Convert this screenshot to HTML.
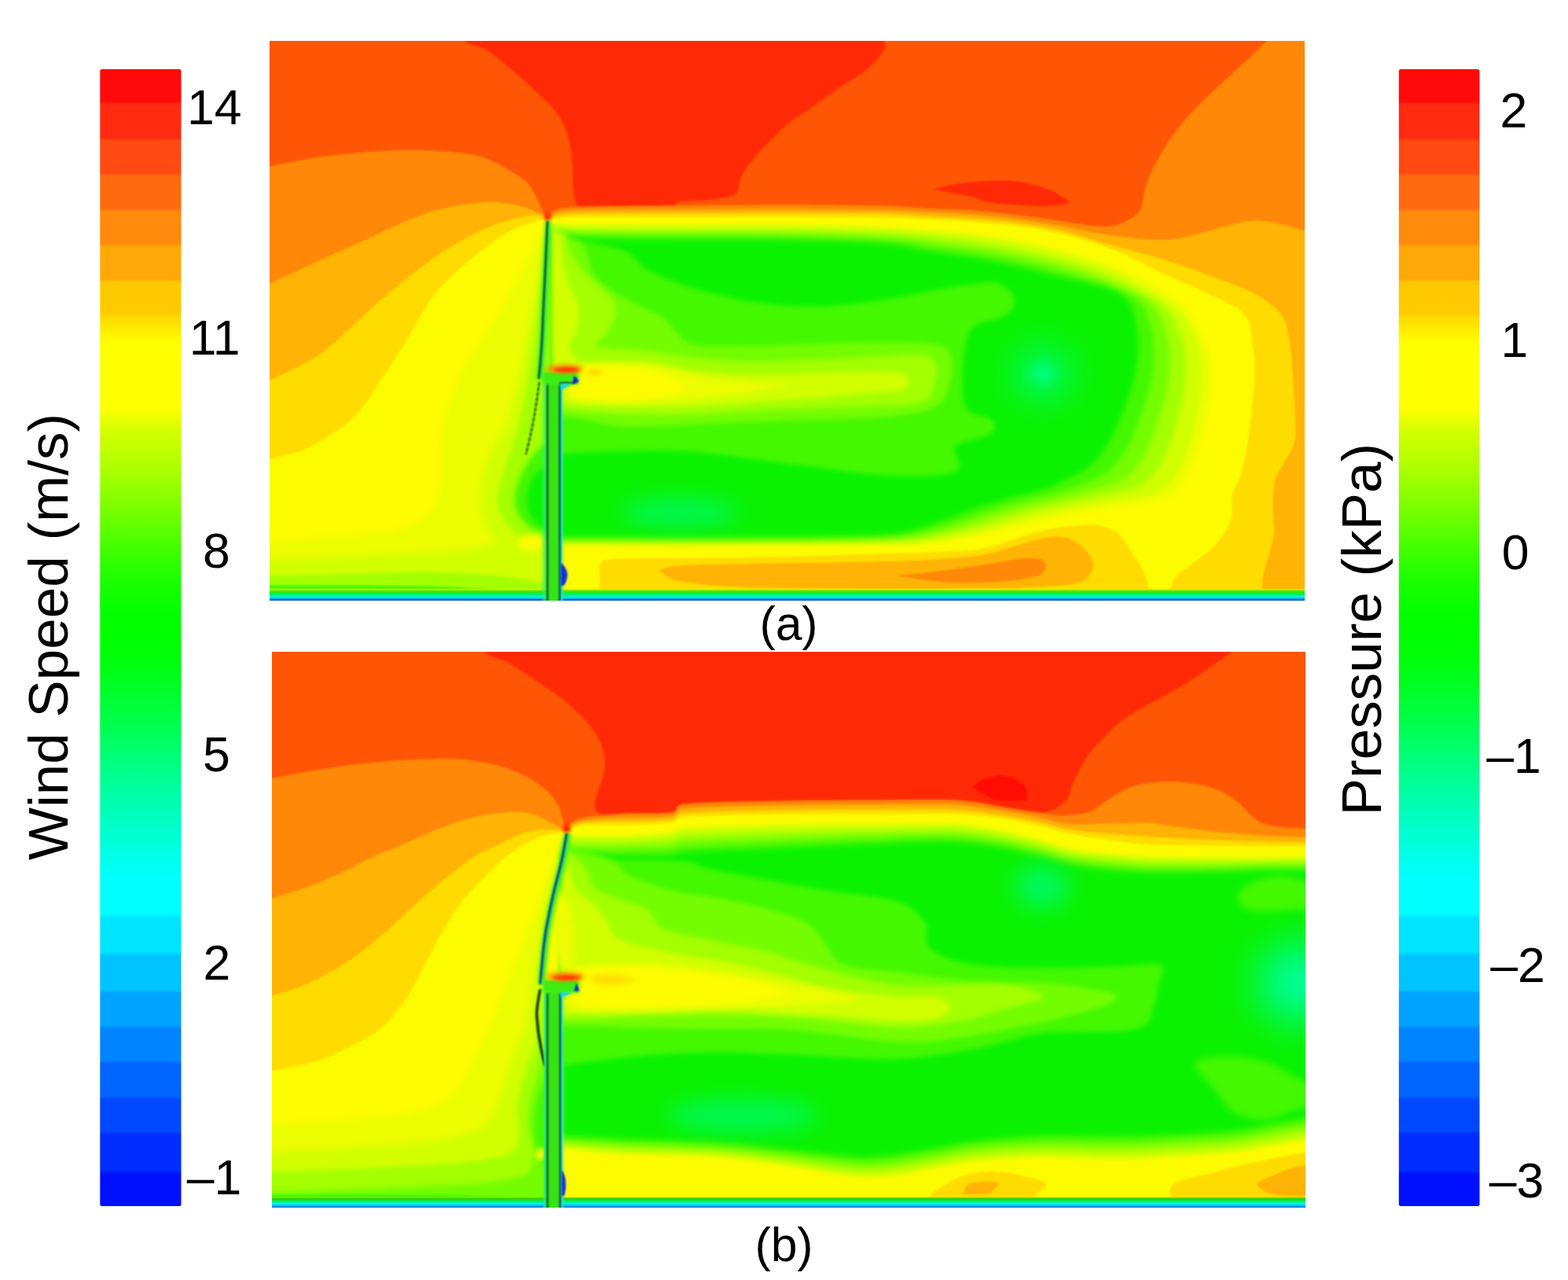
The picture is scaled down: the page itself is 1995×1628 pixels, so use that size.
<!DOCTYPE html>
<html lang="en"><head><meta charset="utf-8"><title>Wind speed and pressure contours</title>
<style>html,body{margin:0;padding:0;background:#fff;}body{width:1995px;height:1628px;overflow:hidden;}svg{display:block;}text{font-family:"Liberation Sans", Arial, Helvetica, sans-serif;fill:#000;}.tick{font-size:62.5px;}.axis{font-size:71px;}.cap{font-size:60.5px;}</style>
</head><body>
<svg xmlns="http://www.w3.org/2000/svg" width="1995" height="1628" viewBox="0 0 1995 1628">
<defs>
<filter id="blur-cb" color-interpolation-filters="sRGB" filterUnits="userSpaceOnUse" x="0" y="0" width="1995" height="1628"><feGaussianBlur stdDeviation="0 1.8"/></filter>
<linearGradient id="cbgrad" gradientUnits="userSpaceOnUse" x1="0" y1="60" x2="0" y2="1560"><stop offset="0.00000" stop-color="#ff0a0a"/><stop offset="0.04700" stop-color="#ff0a0a"/><stop offset="0.04700" stop-color="#ff2a10"/><stop offset="0.07800" stop-color="#ff2a10"/><stop offset="0.07800" stop-color="#ff4a12"/><stop offset="0.10800" stop-color="#ff4a12"/><stop offset="0.10800" stop-color="#ff6a10"/><stop offset="0.13767" stop-color="#ff6a10"/><stop offset="0.13767" stop-color="#ff8a0c"/><stop offset="0.16800" stop-color="#ff8a0c"/><stop offset="0.16800" stop-color="#ffa808"/><stop offset="0.19800" stop-color="#ffa808"/><stop offset="0.19800" stop-color="#ffc800"/><stop offset="0.22533" stop-color="#ffca00"/><stop offset="0.22867" stop-color="#ffd800"/><stop offset="0.25067" stop-color="#ffff00"/><stop offset="0.30667" stop-color="#ffff00"/><stop offset="0.32000" stop-color="#dcff00"/><stop offset="0.36000" stop-color="#a8ff00"/><stop offset="0.39667" stop-color="#70ff00"/><stop offset="0.42200" stop-color="#48ff00"/><stop offset="0.44800" stop-color="#20ff00"/><stop offset="0.47400" stop-color="#08ff00"/><stop offset="0.49933" stop-color="#00ff00"/><stop offset="0.52533" stop-color="#00ff10"/><stop offset="0.55133" stop-color="#00ff30"/><stop offset="0.57667" stop-color="#00ff50"/><stop offset="0.60267" stop-color="#00ff78"/><stop offset="0.62867" stop-color="#00ffa0"/><stop offset="0.65400" stop-color="#00ffc0"/><stop offset="0.68533" stop-color="#00ffe8"/><stop offset="0.70533" stop-color="#00ffff"/><stop offset="0.73467" stop-color="#00ffff"/><stop offset="0.73867" stop-color="#00e4ff"/><stop offset="0.76867" stop-color="#00e4ff"/><stop offset="0.76867" stop-color="#00c4ff"/><stop offset="0.80067" stop-color="#00c4ff"/><stop offset="0.80067" stop-color="#00a4ff"/><stop offset="0.83067" stop-color="#00a4ff"/><stop offset="0.83067" stop-color="#0084ff"/><stop offset="0.86067" stop-color="#0084ff"/><stop offset="0.86067" stop-color="#0064ff"/><stop offset="0.89067" stop-color="#0064ff"/><stop offset="0.89067" stop-color="#0048ff"/><stop offset="0.92067" stop-color="#0048ff"/><stop offset="0.92067" stop-color="#002cff"/><stop offset="0.95400" stop-color="#002cff"/><stop offset="0.95400" stop-color="#0010ff"/><stop offset="1.00000" stop-color="#0010ff"/></linearGradient>
<clipPath id="cbl-clip"><rect x="127.3" y="88" width="103.2" height="1446" rx="2.5"/></clipPath>
<clipPath id="cbr-clip"><rect x="1779.8" y="88" width="102.7" height="1446" rx="2.5"/></clipPath>
<clipPath id="pa-clip"><rect x="343" y="52" width="1317" height="712"/></clipPath><filter id="pa-b1" filterUnits="userSpaceOnUse" x="280" y="0" width="1450" height="830" color-interpolation-filters="sRGB"><feGaussianBlur stdDeviation="1.2"/></filter><filter id="pa-b2" filterUnits="userSpaceOnUse" x="280" y="0" width="1450" height="830" color-interpolation-filters="sRGB"><feGaussianBlur stdDeviation="2"/></filter><filter id="pa-b3" filterUnits="userSpaceOnUse" x="280" y="0" width="1450" height="830" color-interpolation-filters="sRGB"><feGaussianBlur stdDeviation="3.2"/></filter><filter id="pa-b5" filterUnits="userSpaceOnUse" x="280" y="0" width="1450" height="830" color-interpolation-filters="sRGB"><feGaussianBlur stdDeviation="5"/></filter><filter id="pa-b8" filterUnits="userSpaceOnUse" x="280" y="0" width="1450" height="830" color-interpolation-filters="sRGB"><feGaussianBlur stdDeviation="8"/></filter><filter id="pa-b14" filterUnits="userSpaceOnUse" x="280" y="0" width="1450" height="830" color-interpolation-filters="sRGB"><feGaussianBlur stdDeviation="14"/></filter><filter id="pa-b22" filterUnits="userSpaceOnUse" x="280" y="0" width="1450" height="830" color-interpolation-filters="sRGB"><feGaussianBlur stdDeviation="22"/></filter><linearGradient id="pa-ground" x1="0" y1="0" x2="0" y2="1"><stop offset="0" stop-color="#e0f000" stop-opacity="0"/><stop offset="0.12" stop-color="#d0f000"/><stop offset="0.2" stop-color="#60e800"/><stop offset="0.3" stop-color="#28e814"/><stop offset="0.45" stop-color="#00f050"/><stop offset="0.6" stop-color="#00f4b0"/><stop offset="0.7" stop-color="#00f0e0"/><stop offset="0.8" stop-color="#10b0ec"/><stop offset="0.88" stop-color="#1070dc"/><stop offset="1" stop-color="#1c54d0"/></linearGradient>
<clipPath id="pb-clip"><rect x="346" y="829" width="1315" height="707"/></clipPath><filter id="pb-b1" filterUnits="userSpaceOnUse" x="280" y="770" width="1450" height="830" color-interpolation-filters="sRGB"><feGaussianBlur stdDeviation="1.2"/></filter><filter id="pb-b2" filterUnits="userSpaceOnUse" x="280" y="770" width="1450" height="830" color-interpolation-filters="sRGB"><feGaussianBlur stdDeviation="2"/></filter><filter id="pb-b3" filterUnits="userSpaceOnUse" x="280" y="770" width="1450" height="830" color-interpolation-filters="sRGB"><feGaussianBlur stdDeviation="3.2"/></filter><filter id="pb-b5" filterUnits="userSpaceOnUse" x="280" y="770" width="1450" height="830" color-interpolation-filters="sRGB"><feGaussianBlur stdDeviation="5"/></filter><filter id="pb-b8" filterUnits="userSpaceOnUse" x="280" y="770" width="1450" height="830" color-interpolation-filters="sRGB"><feGaussianBlur stdDeviation="8"/></filter><filter id="pb-b14" filterUnits="userSpaceOnUse" x="280" y="770" width="1450" height="830" color-interpolation-filters="sRGB"><feGaussianBlur stdDeviation="14"/></filter><filter id="pb-b22" filterUnits="userSpaceOnUse" x="280" y="770" width="1450" height="830" color-interpolation-filters="sRGB"><feGaussianBlur stdDeviation="22"/></filter><linearGradient id="pb-ground" x1="0" y1="0" x2="0" y2="1"><stop offset="0" stop-color="#d0e800" stop-opacity="0"/><stop offset="0.1" stop-color="#70d800"/><stop offset="0.2" stop-color="#20d410"/><stop offset="0.35" stop-color="#10e840"/><stop offset="0.5" stop-color="#00f4a0"/><stop offset="0.62" stop-color="#00f8e8"/><stop offset="0.75" stop-color="#00c8f4"/><stop offset="0.87" stop-color="#0890e8"/><stop offset="1" stop-color="#1070e0"/></linearGradient>
</defs>
<rect width="1995" height="1628" fill="#fff"/>
<g clip-path="url(#cbl-clip)"><rect x="107.5" y="60" width="142.5" height="1500" fill="url(#cbgrad)" filter="url(#blur-cb)"/></g>
<g clip-path="url(#cbr-clip)"><rect x="1760" y="60" width="142" height="1500" fill="url(#cbgrad)" filter="url(#blur-cb)"/></g>
<g clip-path="url(#pa-clip)">
<rect x="283" y="-8" width="1437" height="832" fill="#fe5604"/>
<path d="M588.6 26.6C589.2 30.8 586.9 45.6 592 51.8C597 57.9 609.3 57.6 618.8 63.5C628.3 69.4 638.4 78.1 649 87C659.7 96 673.1 108.3 682.6 117.2C692.1 126.2 700 132.9 706.1 140.8C712.3 148.6 716.2 155.9 719.6 164.3C722.9 172.7 724.7 182.2 726.3 191.1C727.9 200.1 728.4 209.6 729 218C729.5 226.4 729 234.8 729.7 241.5C730.3 248.2 731.1 253.3 733 258.3C735 263.3 740 269.5 741.4 271.7L857.9 271.7C858.3 269.8 858.4 262.6 860 260C861.5 257.3 860.5 256.9 867.3 255.9C874.2 255 890.3 255.4 900.9 254.3C911.6 253.1 924.9 251 931.2 248.9C937.4 246.8 936.8 245 938.5 241.5C940.3 238 939.8 233.1 941.9 228.1C944 223 946.9 217.4 951.3 211.3C955.7 205.1 962.5 197.3 968.1 191.1C973.7 185 979.6 179.7 984.9 174.3C990.2 169 991.9 165.7 1000 159.2C1008.1 152.8 1022.4 143.6 1033.6 135.7C1044.8 127.9 1056 119.8 1067.2 112.2C1078.4 104.6 1092.4 96.8 1100.8 90.4C1109.1 83.9 1113.3 78.6 1117.5 73.6C1121.7 68.5 1124.7 63.8 1125.9 60.2C1127.2 56.5 1125.2 57.4 1124.9 51.8C1124.7 46.2 1124.4 30.8 1124.3 26.6Z" fill="#ff2a05" filter="url(#pa-b1)"/>
<path d="M1188.1 240.8C1193.1 239.7 1204.9 235.6 1218.3 233.8C1231.7 231.9 1254.7 230 1268.7 229.8C1282.7 229.5 1291.1 230.1 1302.3 232.1C1313.5 234.1 1325.8 237.3 1335.8 241.5C1345.9 245.8 1358.2 254.9 1362.7 257.6L1362.7 257.6C1358.2 258.4 1345.9 261.8 1335.8 262.3C1325.8 262.9 1315.1 261.8 1302.3 261C1289.4 260.2 1269.8 259.5 1258.6 257.6C1247.4 255.8 1246.8 252.7 1235.1 249.9C1223.3 247.1 1195.9 242.3 1188.1 240.8Z" fill="#ff2a05" filter="url(#pa-b1)"/>
<path d="M316.6 213.3C320.9 213 329.3 213.3 342.8 211.3C356.2 209.3 376.9 204.2 397.2 201.2C417.4 198.2 441.9 195.2 464.3 193.5C486.7 191.8 509.1 190.7 531.5 191.1C553.9 191.6 581.9 193.4 598.7 196.2C615.5 199 621.1 202.6 632.3 207.9C643.5 213.2 658 221.9 665.8 228.1C673.7 234.2 675.8 239.5 679.3 244.9C682.7 250.2 684.4 255.4 686.7 260C688.9 264.6 691.7 270.3 692.7 272.4L700 271C702.5 270 706.7 266.4 715 265C723.3 263.6 725.8 263.1 750 262.5C774.2 261.9 818.3 261.8 860 261.5C901.7 261.2 955 260.4 1000 260.5C1045 260.6 1100 261.2 1130 262C1160 262.8 1160 263.9 1180 265C1200 266.1 1225 266.2 1250 268.4C1275 270.6 1307.5 275 1330 278C1352.5 281 1370 285.1 1385 286.5C1400 287.9 1409.4 289.2 1420 286.4C1430.6 283.6 1442.8 276.4 1448.7 269.8C1454.6 263.2 1453.2 254.1 1455.4 246.6C1457.6 239.1 1459.2 231.9 1462 225C1464.8 218.1 1467.7 212.8 1472 205C1476.3 197.2 1481.7 187.2 1488 178C1494.3 168.8 1502.2 159 1510 150C1517.8 141 1526.3 132.5 1535 124C1543.7 115.5 1552.8 107.5 1562 99C1571.2 90.5 1581.8 80.8 1590 73C1598.2 65.2 1604 59.2 1611 52C1618 44.8 1628.5 33.7 1632 30L1720 -8L1720 824L283 824Z" fill="#ff8808" filter="url(#pa-b1)"/>
<path d="M316.6 367.4C320.9 366.3 329.3 366 342.8 360.7C356.2 355.4 376.9 344.8 397.2 335.5C417.4 326.3 441.9 315.4 464.3 305.3C486.7 295.2 514.7 281.8 531.5 275.1C548.3 268.4 553.9 267.7 565.1 265C576.3 262.3 587.5 260.3 598.7 259C609.9 257.7 621.1 256.6 632.3 257.3C643.5 258 656.9 261 665.8 263.3C674.8 265.6 681.2 269.3 686 271.1C690.7 272.8 693 273.6 694.4 274.1L700 274C702.5 273.2 706.7 270.2 715 269C723.3 267.8 725.8 267.4 750 267C774.2 266.6 818.3 266.7 860 266.5C901.7 266.3 955 265.8 1000 266C1045 266.2 1100 266.8 1130 267.5C1160 268.2 1160 268.9 1180 270C1200 271.1 1225 271.7 1250 274C1275 276.3 1303 279.8 1330 284C1357 288.2 1387 295.5 1412 299C1437 302.5 1460.7 305.4 1480 305C1499.3 304.6 1511.7 300.1 1528 296.4C1544.3 292.7 1564.2 285.5 1578 283C1591.8 280.5 1597.3 279.7 1611 281.4C1624.7 283.1 1645.2 289.4 1660 293C1674.8 296.6 1693.3 301.3 1700 303L1720 824L283 824Z" fill="#ffb305" filter="url(#pa-b1)"/>
<path d="M300 498C307.2 495.6 330.3 488.4 343 483.4C355.7 478.4 364.8 473.8 376 468C387.2 462.2 398.5 456.7 410 448.4C421.5 440.1 433.3 428.5 445 418C456.7 407.5 468.3 395.7 480 385.4C491.7 375.1 503.3 365.3 515 356C526.7 346.7 538.3 337.6 550 329.4C561.7 321.2 573.3 313.6 585 307C596.7 300.4 609.2 294.3 620 289.7C630.8 285.1 640.3 282.1 650 279.5C659.7 276.9 670.9 274.6 678.4 273.8C685.9 273 692.2 274.4 695 274.5L700 277C702.5 276.3 706.7 273.9 715 273C723.3 272.1 725.8 271.8 750 271.5C774.2 271.2 818.3 271.1 860 271C901.7 270.9 955 270.8 1000 271C1045 271.2 1100 271.3 1130 272C1160 272.7 1160 273.8 1180 275C1200 276.2 1225 276.7 1250 279C1275 281.3 1303 283.7 1330 289C1357 294.3 1387 304.2 1412 311C1437 317.8 1457.8 323.1 1480 330C1502.2 336.9 1525.9 345.6 1545 352.7C1564.1 359.8 1580.5 364.8 1594.7 372.7C1608.9 380.6 1622.3 389.5 1630 400C1637.7 410.5 1638.5 422.6 1641 435.7C1643.5 448.8 1643.9 463.3 1645 478.8C1646.1 494.3 1647.5 514.8 1647.8 528.6C1648.1 542.4 1649.3 551.8 1647 561.7C1644.7 571.7 1638.2 580 1634 588.3C1629.8 596.6 1624.4 602.1 1622 611.5C1619.6 620.9 1619.8 633.6 1619.6 644.7C1619.4 655.8 1621.8 668 1621 678C1620.2 688 1616.8 696.1 1614.6 704.4C1612.4 712.7 1609.4 720 1608 727.6C1606.6 735.2 1606.3 737.9 1606 750C1605.7 762.1 1606 791.7 1606 800L283 824Z" fill="#ffdc00" filter="url(#pa-b1)"/>
<path d="M300 595C307.2 593.2 329 587.7 343 584C357 580.3 371.7 577.8 384 573C396.3 568.2 407.7 560.5 417 555C426.3 549.5 432.5 546.3 440 540C447.5 533.7 455.3 525.3 462 517C468.7 508.7 474.2 498.7 480 490C485.8 481.3 491.2 473.9 497 465C502.8 456.1 509.2 446.4 515 436.7C520.8 427 526.2 416.7 532 407C537.8 397.3 543.3 387.2 550 378.4C556.7 369.6 564.2 361.8 572 354C579.8 346.2 588.7 338.5 596.7 331.7C604.7 324.9 612.2 318.8 620 313C627.8 307.2 635.4 301.2 643.4 296.7C651.4 292.2 659.9 288.9 668 286C676.1 283.1 688 280.2 692 279L700 280C702.5 279.5 706.7 277.7 715 277C723.3 276.3 725.8 276.2 750 276C774.2 275.8 818.3 276 860 276C901.7 276 955 275.8 1000 276C1045 276.2 1100 276.5 1130 277C1160 277.5 1160 278 1180 279C1200 280 1225 280.7 1250 283C1275 285.3 1303 287.5 1330 293C1357 298.5 1387 306.8 1412 316C1437 325.2 1458.7 338.2 1480 348C1501.3 357.8 1522.8 366.3 1540 375C1557.2 383.7 1574.5 389.2 1583.5 400C1592.5 410.8 1591.9 426.7 1594 440C1596.1 453.3 1596.2 466.7 1596 480C1595.8 493.3 1594.3 506.7 1593 520C1591.7 533.3 1590.2 546.7 1588 560C1585.8 573.3 1583.3 588.3 1580 600C1576.7 611.7 1570.2 619.8 1568 630C1565.8 640.2 1570.3 650.2 1566.5 661C1562.7 671.8 1554.1 684.5 1545 694.5C1535.9 704.5 1519.5 714.9 1511.8 721C1504 727.1 1502.1 726.2 1498.5 731C1494.9 735.8 1491.4 738.5 1490 750C1488.6 761.5 1490 791.7 1490 800L283 824Z" fill="#fcfb00" filter="url(#pa-b1)"/>
<path d="M763 752C763.2 746.3 762 724.7 764 718C766 711.3 765.7 713.3 775 712C784.3 710.7 797.5 710.4 820 710C842.5 709.6 880 709.8 910 709.5C940 709.2 963.3 708.9 1000 708C1036.7 707.1 1097.3 705 1130 704C1162.7 703 1176 703 1196 702C1216 701 1234.3 700.7 1250 698C1265.7 695.3 1276.7 690 1290 686C1303.3 682 1316.3 676.9 1330 674C1343.7 671.1 1360.3 669.3 1372 668.5C1383.7 667.7 1391.7 667.4 1400 669C1408.3 670.6 1415.5 672.7 1422 678C1428.5 683.3 1433.2 692.7 1438.8 701C1444.4 709.3 1451.5 719.1 1455.4 727.6C1459.3 736.1 1460.9 747.9 1462 752Z" fill="#ffdc00" filter="url(#pa-b1)"/>
<path d="M838 725C842.7 724.1 846.5 720.8 866 719.5C885.5 718.2 911 717.9 955 717C999 716.1 1089.8 715 1130 714C1170.2 713 1176 712.3 1196 711C1216 709.7 1234.3 708.7 1250 706C1265.7 703.3 1276.7 698.7 1290 695C1303.3 691.3 1319 685.9 1330 684C1341 682.1 1348.4 681.8 1356 683.5C1363.6 685.2 1370.2 689.9 1375.7 694.5C1381.2 699.1 1386.8 705.5 1389 711C1391.2 716.5 1391.8 722.6 1389 727.6C1386.2 732.6 1382.4 737.9 1372.4 741C1362.5 744.1 1347.7 744.8 1329.3 746C1310.9 747.2 1295.2 748 1262 748.5C1228.8 749 1152 748.9 1130 749L1130 749C1100.8 748.7 999 748.6 955 747C911 745.4 885.5 743.2 866 739.5C846.5 735.8 842.7 727.4 838 725Z" fill="#ffb305" filter="url(#pa-b1)"/>
<path d="M1138.8 731.7C1145.7 731.2 1161.5 730.7 1180 728.5C1198.5 726.3 1230.7 721.5 1250 718.6C1269.3 715.7 1283.9 712.3 1296 711C1308.1 709.7 1316.9 709.6 1322.7 711C1328.5 712.4 1329.6 717.9 1331 719.3L1331 719.3C1329.6 721.2 1331.3 727.7 1322.7 731C1314.1 734.3 1297.8 737.5 1279.5 739.2C1261.2 740.9 1230.6 741.4 1213 741C1195.4 740.6 1186.4 738.5 1174 737C1161.6 735.5 1144.7 732.6 1138.8 731.7Z" fill="#ff8808" filter="url(#pa-b1)"/>
<path d="M300 692C307.2 691.7 318 691.8 343 690C368 688.2 421.1 684 450 681C478.9 678 499.8 677.2 516.4 672C533 666.8 541.8 661 549.5 650C557.2 639 560.2 624.3 562.8 606C565.4 587.7 560.5 562.7 565 540C569.5 517.3 577.5 495 590 470C602.5 445 625 415.8 640 390C655 364.2 671.3 331.7 680 315C688.7 298.3 690 294.2 692 290L702 290L702 800L283 824Z" fill="#ebfd00" filter="url(#pa-b3)"/>
<path d="M300 714C307.2 713.7 318 713.1 343 712C368 710.9 417.4 709.1 450 707.6C482.6 706.1 514.6 704.4 538.5 703C562.4 701.6 578.9 701.2 593.6 699C608.3 696.8 623 695.9 626.7 690C630.4 684.1 618.3 673.8 615.7 663.5C613.1 653.2 610.6 639.4 611 628C611.4 616.6 614.7 606 618 595C621.3 584 626.7 571.2 631 562C635.3 552.8 639.2 553.7 644 540C648.8 526.3 654.7 503.3 660 480C665.3 456.7 671.3 425 676 400C680.7 375 685.2 347.3 688 330C690.8 312.7 692.2 301.7 693 296L702 296L702 800L283 824Z" fill="#d2ff00" filter="url(#pa-b3)"/>
<path d="M300 733C307.2 732.8 318 732.5 343 732C368 731.5 417.4 730.5 450 729.7C482.6 729 512.7 727.5 538.5 727.5C564.3 727.5 586.3 728.6 604.7 729.7C623.1 730.8 636.2 732.3 648.8 734C661.3 735.7 671.1 738.7 680 740C688.9 741.3 698.3 741.7 702 742L702 800L283 824Z" fill="#a4ff00" filter="url(#pa-b2)"/>
<path d="M300 744.5C325 744.5 406.7 744.2 450 744.5C493.3 744.8 531.7 745.2 560 746C588.3 746.8 603.3 748.5 620 749.5C636.7 750.5 646.3 751.4 660 752C673.7 752.6 695 752.8 702 753L702 800L283 824Z" fill="#44f800" filter="url(#pa-b1)"/>
<path d="M694 300C692.2 316.7 686.7 370 683 400C679.3 430 675.8 456.7 672 480C668.2 503.3 663.2 526.3 660 540C656.8 553.7 656 552.8 653 562C650 571.2 645.3 584 642 595C638.7 606 634.4 618.8 633.3 628C632.2 637.2 632.9 642.7 635.5 650C638.1 657.3 643.6 666.8 648.8 672C653.9 677.2 657.5 679 666.4 681C675.3 683 696.1 683.5 702 684L702 300Z" fill="#a4ff00" filter="url(#pa-b3)"/>
<path d="M690.7 566.5C688.5 568.7 682 573.8 677.5 579.7C673 585.6 667.7 593.8 664 601.8C660.3 609.8 656.5 620 655.4 628C654.3 636 655 643.3 657.6 650C660.2 656.7 665.6 663.5 670.8 668C675.9 672.5 683.3 675 688.5 676.7C693.7 678.4 699.8 677.8 702 678L702 566Z" fill="#44f800" filter="url(#pa-b3)"/>
<path d="M693 595C690.8 596.8 683.3 599.7 679.6 606C675.9 612.3 671.6 624.5 670.8 632.6C670 640.7 671.3 648.1 675 654.7C678.7 661.3 688.5 669.1 693 672C697.5 674.9 700.5 672 702 672L702 595Z" fill="#0af200" filter="url(#pa-b3)"/>
<ellipse cx="676" cy="691" rx="17" ry="10" fill="#fcfb00" filter="url(#pa-b3)"/>
<path d="M699 284L700.5 284.2L702.4 284.4L704.8 284.7L707.7 285L711 285.3L715 285.5L718.9 285.6L722.5 285.7L726.6 285.8L732.1 285.9L739.6 285.9L750 286L763.6 286.1L780 286.2L798.4 286.3L818.3 286.4L839.1 286.4L860 286.5L881.7 286.5L904.8 286.4L928.8 286.4L953 286.3L976.9 286.4L1000 286.5L1023.2 286.8L1047 287.1L1070.6 287.6L1093 288L1113.1 288.5L1130 289L1142.7 289.4L1151.9 289.9L1158.8 290.3L1164.8 290.8L1171.4 291.3L1180 292L1190.4 292.7L1201.5 293.4L1213.1 294.2L1225.2 295.2L1237.5 296.4L1250 298L1262.7 299.9L1275.9 302L1289.2 304.4L1302.8 307L1316.4 309.9L1330 313L1343.7 316.4L1357.7 320L1371.8 323.8L1385.6 327.9L1399.1 332.3L1412 337L1424.5 342.1L1437 347.8L1449.1 353.7L1460.4 359.7L1470.9 365.5L1480 371L1487.7 376L1494 380.6L1499.4 385.1L1504.1 389.7L1508.5 394.6L1513 400L1517.5 406L1521.7 412.5L1525.7 419.3L1529.3 426.3L1532.4 433.2L1535 440L1537.1 446.7L1538.6 453.3L1539.7 460L1540.4 466.7L1540.8 473.3L1541 480L1540.8 486.7L1540.3 493.3L1539.4 500L1538.4 506.7L1537.2 513.3L1536 520L1534.8 526.7L1533.5 533.3L1532.1 540L1530.6 546.7L1528.9 553.3L1527 560L1524.9 566.8L1522.6 573.8L1520.2 580.8L1517.6 587.6L1514.9 594L1512 600L1509.2 605.5L1506.5 610.8L1503.7 615.8L1500.5 620.3L1496.7 624.4L1492 628L1486.2 631L1479.5 633.4L1472.1 635.4L1464.5 637.1L1457 638.6L1450 640L1443.9 641.1L1438.7 641.8L1433.5 642.2L1427.8 642.8L1420.8 643.6L1412 645L1400.9 647L1387.9 649.4L1373.6 652.1L1358.8 655L1344.1 658L1330 661L1316.4 664.1L1302.8 667.4L1289.2 670.8L1275.9 674.1L1262.7 677.3L1250 680L1237.5 682.4L1225.2 684.6L1213.1 686.6L1201.5 688.3L1190.4 689.8L1180 691L1171.4 691.9L1164.8 692.4L1158.8 692.6L1151.9 692.7L1142.7 692.8L1130 693L1113.1 693.2L1093 693.4L1070.6 693.6L1047 693.8L1023.2 693.9L1000 694L976.8 694.1L952.6 694.1L928.1 694.1L904.1 694L881.1 694L860 694L840.3 694L821.4 694L803.6 694L787.3 694L772.6 694L760 694L749.8 694L742 694L735.9 694L730.9 694L726.5 694L722 694L717.6 694L713.9 694L710.6 694L707.9 694L705.7 694L704 694Z" fill="#ebfd00" filter="url(#pa-b2)"/>
<path d="M699 285L719.8 286.7L740.6 286.9L761.4 287.1L782.2 287.2L803.1 287.3L823.9 287.4L844.7 287.5L865.6 287.5L886.4 287.5L907.2 287.4L928.1 287.3L948.9 287.3L969.7 287.3L990.6 287.4L1011.4 287.7L1032.2 288.1L1053.1 288.5L1073.9 289.1L1094.7 289.7L1115.5 290.4L1136.3 291.3L1157.1 292.7L1177.9 294.8L1198.6 296.3L1219.4 297.7L1240.2 299.7L1260.8 302.7L1281.3 306.3L1301.7 310.4L1322 315L1342.2 320.1L1362.4 325.5L1382.3 331.3L1402.1 338.1L1421.2 346.2L1439.7 355.7L1457.7 366.2L1475.5 377.2L1493.3 388L1507.8 402.6L1517.8 420.9L1525.1 440.4L1529.1 460.8L1530 481.6L1528.1 502.4L1524.4 522.9L1519.8 543.2L1514 563.2L1507.9 583.1L1498.8 601.8L1485.1 617.4L1468.2 629.4L1447.8 633.1L1427.1 635.6L1406.6 639L1386.1 642.7L1365.6 646.5L1345.2 650.7L1324.8 655.3L1304.7 660.7L1284.7 666.5L1264.7 672.2L1244.5 677.3L1224.1 681.6L1203.6 685.4L1183 688.6L1162.3 690.6L1141.5 690.9L1120.7 691.1L1099.8 691.4L1079 691.6L1058.2 691.7L1037.3 691.8L1016.5 691.9L995.7 692L974.8 692.1L954 692.1L933.2 692.1L912.3 692L891.5 692L870.7 692L849.8 692L829 692L808.2 692L787.3 692L766.5 692L745.7 692L724.8 692L704 692Z" fill="#d2ff00" filter="url(#pa-b2)"/>
<path d="M699.8 288.8L720 290.6L740.3 291.1L760.6 291.3L780.9 291.5L801.2 291.6L821.5 291.7L841.8 291.8L862.2 291.9L882.5 291.9L902.8 291.8L923.1 291.8L943.4 291.8L963.7 291.8L984.1 291.9L1004.4 292.2L1024.7 292.6L1045 293L1065.3 293.6L1085.6 294.2L1105.9 294.9L1126.2 295.7L1146.5 297L1166.7 298.9L1186.9 300.7L1207.1 302.8L1227.3 305.1L1247.4 307.9L1267.4 311.2L1287.4 315.1L1307.2 319.4L1326.9 324.2L1346.6 329.3L1366.2 334.8L1385.5 340.9L1404.5 348L1422.9 356.2L1441 365.2L1458.8 374.6L1476.4 384.7L1490.6 399L1499.4 417.2L1505.6 436.4L1508.8 456.4L1509.1 476.7L1506.8 496.9L1502.8 516.8L1497.7 536.4L1491.7 555.8L1485.1 575L1476 593.1L1463.1 608.6L1447 620.9L1427.7 626L1407.9 629.9L1388.2 634.4L1368.3 638.4L1348.4 642.4L1328.6 646.8L1308.8 651.5L1289.3 657L1269.9 663L1250.4 668.9L1230.8 674.2L1211.1 678.8L1191.3 683.1L1171.2 686.1L1150.9 687.9L1130.6 688.3L1110.3 688.6L1090 688.9L1069.7 689.1L1049.4 689.2L1029.1 689.4L1008.7 689.5L988.4 689.6L968.1 689.6L947.8 689.6L927.5 689.6L907.2 689.6L886.8 689.5L866.5 689.5L846.2 689.5L825.9 689.5L805.6 689.5L785.3 689.5L764.9 689.5L744.6 689.5L724.3 689.5L704 689.5Z" fill="#a4ff00" filter="url(#pa-b3)"/>
<path d="M700.5 292.5L720.2 294.6L739.9 295.3L759.7 295.6L779.5 295.8L799.3 295.9L819.1 296L838.9 296.1L858.7 296.2L878.5 296.3L898.3 296.3L918.1 296.3L937.9 296.3L957.7 296.3L977.5 296.4L997.3 296.7L1017.1 297.1L1036.9 297.5L1056.7 298.1L1076.5 298.7L1096.3 299.3L1116.1 300.2L1135.8 301.3L1155.5 303.1L1175.2 305L1194.8 307.9L1214.4 310.5L1234 313.2L1253.5 316.2L1273 319.7L1292.4 323.8L1311.7 328.3L1330.9 333.1L1350 338.2L1369 343.7L1387.7 349.8L1406.1 356.7L1424.3 364.1L1442.2 372.1L1459.6 381.3L1473.3 395.4L1481 413.4L1486.1 432.5L1488.5 452L1488.2 471.8L1485.5 491.4L1481.1 510.6L1475.7 529.6L1469.3 548.4L1462.4 566.9L1453.3 584.4L1441 599.9L1425.8 612.4L1407.5 618.9L1388.7 624.2L1369.9 629.7L1350.6 634.2L1331.3 638.3L1312 642.8L1292.9 647.8L1273.9 653.4L1255 659.4L1236.2 665.5L1217.2 671.1L1198.1 676.1L1178.9 680.7L1159.3 683.5L1139.6 685.2L1119.8 685.7L1100 686.1L1080.2 686.4L1060.4 686.6L1040.6 686.7L1020.8 686.9L1001 687L981.2 687.1L961.4 687.1L941.6 687.1L921.8 687.1L902 687.1L882.2 687L862.4 687L842.6 687L822.8 687L803 687L783.2 687L763.4 687L743.6 687L723.8 687L704 687Z" fill="#74fd00" filter="url(#pa-b3)"/>
<path d="M701.2 296.2L720.4 298.6L739.6 299.5L758.9 299.9L778.2 300.1L797.5 300.2L816.7 300.4L836 300.5L855.3 300.6L874.6 300.7L893.9 300.7L913.2 300.7L932.4 300.8L951.7 300.8L971 301L990.3 301.2L1009.6 301.6L1028.8 302L1048.1 302.5L1067.4 303.1L1086.7 303.8L1105.9 304.6L1125.2 305.7L1144.4 307.2L1163.5 309.3L1182.4 313L1201.5 315.9L1220.6 318.4L1239.7 321.2L1258.7 324.4L1277.6 328.2L1296.4 332.4L1315.1 336.9L1333.8 341.6L1352.4 346.5L1371 351.7L1389.3 357.1L1407.5 363L1425.5 369.5L1442.8 378L1456.1 391.8L1462.6 409.7L1466.5 428.5L1468.2 447.6L1467.3 466.8L1464.2 485.9L1459.5 504.5L1453.6 522.9L1446.9 540.9L1439.7 558.8L1430.5 575.7L1419 591.1L1404.7 603.8L1387.4 611.8L1369.6 618.5L1351.6 625.1L1332.9 629.9L1314.1 634.2L1295.5 638.9L1276.9 644L1258.4 649.7L1240.2 655.9L1221.9 662.1L1203.6 668L1185.1 673.3L1166.5 678.3L1147.4 681L1128.2 682.5L1108.9 683.1L1089.6 683.5L1070.4 683.8L1051.1 684.1L1031.8 684.3L1012.5 684.4L993.2 684.6L974 684.7L954.7 684.7L935.4 684.7L916.1 684.6L896.8 684.6L877.5 684.5L858.3 684.5L839 684.5L819.7 684.5L800.4 684.5L781.1 684.5L761.8 684.5L742.6 684.5L723.3 684.5L704 684.5Z" fill="#44f800" filter="url(#pa-b3)"/>
<path d="M702 300L720.6 302.5L739.3 303.7L758.1 304.1L776.8 304.4L795.6 304.5L814.4 304.7L833.1 304.8L851.9 304.9L870.7 305.1L889.4 305.1L908.2 305.2L926.9 305.2L945.7 305.3L964.5 305.5L983.2 305.7L1002 306L1020.8 306.5L1039.5 307L1058.3 307.6L1077 308.2L1095.8 309L1114.5 310L1133.2 311.3L1151.8 313.7L1170.1 318.1L1188.6 321.3L1207.2 323.7L1225.8 326.1L1244.3 329L1262.8 332.5L1281.1 336.5L1299.4 340.7L1317.6 345.1L1335.9 349.4L1354.2 353.5L1372.5 357.6L1390.8 362L1408.8 367L1425.9 374.6L1438.9 388.1L1444.2 406L1447 424.5L1447.9 443.2L1446.3 461.9L1442.9 480.4L1437.8 498.4L1431.5 516.1L1424.6 533.5L1416.9 550.6L1407.8 567L1396.9 582.3L1383.5 595.3L1367.3 604.7L1350.4 612.8L1333.3 620.5L1315.2 625.6L1297 630.1L1278.9 635L1260.9 640.2L1243 646.1L1225.3 652.4L1207.7 658.7L1190 664.9L1172.1 670.5L1154.1 676L1135.5 678.5L1116.8 679.8L1098.1 680.5L1079.3 681L1060.5 681.3L1041.8 681.6L1023 681.8L1004.2 682L985.5 682.1L966.7 682.2L948 682.2L929.2 682.2L910.4 682.1L891.7 682.1L872.9 682L854.1 682L835.4 682L816.6 682L797.8 682L779.1 682L760.3 682L741.5 682L722.8 682L704 682Z" fill="#0af200" filter="url(#pa-b3)"/>
<path d="M704 300C710.2 301 725.7 302.8 741 306C756.3 309.2 781.5 313 795.6 319.3C809.7 325.6 811.4 336 825.4 343.7C839.4 351.4 857 358.6 879.5 365.4C902 372.2 933.6 380.2 960.7 384.3C987.8 388.4 1015 390.1 1042 389.7C1069 389.2 1097.3 385.2 1123 381.6C1148.7 378 1172.8 371.8 1196 368C1219.2 364.2 1247.3 358.6 1262 359C1276.7 359.4 1279.6 366.2 1284.4 370.3C1289.2 374.4 1291.7 378.4 1291 383.5C1290.3 388.6 1288.5 395.9 1280 401C1271.5 406.1 1248.5 408.5 1240 414.4C1231.5 420.3 1231.5 425.4 1229 436.4C1226.5 447.4 1224.6 466.7 1224.8 480.6C1225 494.5 1223.8 511.1 1230 520C1236.2 528.9 1257 528.7 1262 534C1267 539.3 1267.7 546.3 1260 552C1252.3 557.7 1223.3 560 1216 568C1208.7 576 1230.3 593.8 1216 600C1201.7 606.2 1166.2 606.8 1130 605C1093.8 603.2 1042.7 594.6 998.8 589.4C954.9 584.2 910.5 576.2 866.4 574C822.3 571.8 761.1 575 734 576C706.9 577 709 579.3 704 580Z" fill="#44f800" filter="url(#pa-b3)"/>
<path d="M704 296C710.2 298.5 732.4 301.7 741.4 311C750.4 320.3 748.2 340 757.7 351.8C767.2 363.6 784.3 373.1 798.3 381.6C812.3 390.1 830.8 395.8 841.6 403C852.4 410.2 855.8 419.1 863 425C870.2 430.9 868.7 435.9 885 438.4C901.3 440.9 925.5 440.2 960.7 439.8C995.9 439.4 1057.7 435.9 1096 435.7C1134.3 435.5 1171.8 435.2 1190.8 438.4C1209.8 441.6 1206.9 446.6 1209.8 454.7C1212.7 462.8 1211.6 476.6 1208.4 487C1205.2 497.4 1203.9 509.8 1190.8 517C1177.7 524.2 1161.8 527 1130 530C1098.2 533 1036.6 533.5 1000 535C963.4 536.5 943.9 537.4 910.6 538.7C877.3 540 829.4 544.1 800 543C770.6 541.9 750 534.2 734 532C718 529.8 709 530.3 704 530Z" fill="#74fd00" filter="url(#pa-b3)"/>
<path d="M704 292C706.6 292.9 716.3 293.1 719.8 297.7C723.3 302.2 721 311.2 725 319.3C729 327.4 735 336 744 346.4C753 356.8 773 372.2 779.3 381.6C785.6 391 783.4 395.8 782 403C780.6 410.2 774.7 418.7 771 425C767.3 431.3 750.9 437.4 760 441C769.1 444.6 805.5 444.3 825.4 446.6C845.3 448.9 857 452.5 879.5 454.7C902 456.9 924.6 460 960.7 460C996.8 460 1060.8 456 1096 454.7C1131.2 453.4 1156.2 450.2 1172 452C1187.8 453.8 1188.1 459.2 1190.8 465.5C1193.5 471.8 1191.1 482.3 1188 490C1184.9 497.7 1187.3 507 1172 511.5C1156.7 516 1131.2 515.2 1096 517C1060.8 518.8 1001.3 520.6 960.7 522.4C920.1 524.2 885.9 527.4 852.4 527.8C818.9 528.2 784.7 526.3 760 525C735.3 523.7 713.3 520.8 704 520Z" fill="#a4ff00" filter="url(#pa-b3)"/>
<path d="M702 290C703.7 291.7 709.7 293.3 712 300C714.3 306.7 714.3 320.5 716 330C717.7 339.5 718.7 347 722 357C725.3 367 734 379.5 736 390C738 400.5 735.8 411.5 734 420C732.2 428.5 723.3 434.3 725 441C726.7 447.7 727.3 456.8 744 460C760.7 463.2 802.8 458.2 825.4 460C848 461.8 857 468.3 879.5 471C902 473.7 924.6 475.9 960.7 476.3C996.8 476.7 1065.3 473.8 1096 473.6C1126.7 473.4 1134.9 473.2 1144.8 475C1154.7 476.8 1155.1 481.1 1155.6 484.5C1156 487.9 1157.4 492.6 1147.5 495.3C1137.6 498 1127.1 498 1096 500.7C1064.9 503.4 999 508.8 960.7 511.5C922.4 514.2 899.5 516.2 866 517C832.5 517.8 787 516.8 760 516C733 515.2 713.3 512.7 704 512Z" fill="#d2ff00" filter="url(#pa-b3)"/>
<path d="M740 464C752.7 461.2 781.7 462 800 463C818.3 464 833.3 467.2 850 470C866.7 472.8 881.7 477.2 900 480C918.3 482.8 943.3 485.5 960 487C976.7 488.5 1000 487.2 1000 489C1000 490.8 976.7 495.3 960 498C943.3 500.7 918.3 503 900 505C881.7 507 873.3 508.8 850 510C826.7 511.2 781 512.8 760 512C739 511.2 730 510.3 724 505C718 499.7 721.3 486.8 724 480C726.7 473.2 727.3 466.8 740 464Z" fill="#ebfd00" filter="url(#pa-b3)"/>
<path d="M744 468C755.7 466 782.5 467.1 798.3 468C814.1 468.9 827.7 470.4 839 473.6C850.3 476.8 860.6 483.4 866 487C871.4 490.6 873.7 492.6 871.4 495.3C869.1 498 864.6 501.1 852.4 503.4C840.2 505.6 816.4 508.4 798.3 508.8C780.2 509.2 756.2 507.4 744 506C731.8 504.6 727.7 505 725 500.7C722.3 496.4 724.8 485.4 728 480C731.2 474.6 732.3 470 744 468Z" fill="#fcfb00" filter="url(#pa-b3)"/>
<path d="M749 471C750.7 469.9 755.8 469.1 759 469.5C762.2 469.9 768 472.2 768 473.5C768 474.8 762.2 477.1 759 477.5C755.8 477.9 750.7 477.1 749 476C747.3 474.9 747.3 472.1 749 471Z" fill="#ffdc00" filter="url(#pa-b2)"/>
<ellipse cx="1327" cy="475" rx="40" ry="36" fill="#00f858" filter="url(#pa-b22)"/>
<ellipse cx="1327" cy="475" rx="15" ry="13" fill="#00fd84" filter="url(#pa-b8)"/>
<ellipse cx="865" cy="652" rx="75" ry="17" fill="#00f858" filter="url(#pa-b14)"/>
<rect x="283" y="748" width="1437" height="16.5" fill="url(#pa-ground)"/>
<path d="M696.5 281 C695 320 692.5 370 691 400 C690 430 688 460 685.5 482" fill="none" stroke="#30ec30" stroke-width="8" filter="url(#pa-b2)" transform="translate(1 0)"/>
<path d="M696.5 281 C695 320 692.5 370 691 400 C690 430 688 460 685.5 482" fill="none" stroke="#0a3a48" stroke-width="2.4" filter="url(#pa-b1)"/>
<path d="M686 486 C682 520 676 552 669 578" fill="none" stroke="#1a3a10" stroke-width="2.2" stroke-dasharray="5 1.5" filter="url(#pa-b1)"/>
<circle cx="696.5" cy="275.5" r="4.6" fill="#ff1400" filter="url(#pa-b2)"/>
<rect x="691" y="486" width="6" height="290" fill="#30f070" filter="url(#pa-b2)" opacity="0.9"/>
<rect x="712" y="486" width="4" height="290" fill="#20f0e0" filter="url(#pa-b1)"/>
<rect x="696" y="484" width="16.5" height="290" fill="#36e414" filter="url(#pa-b1)"/>
<rect x="695.4" y="486" width="2.2" height="290" fill="#0c4030" filter="url(#pa-b1)"/>
<rect x="711" y="486" width="2.2" height="290" fill="#0c3a58" filter="url(#pa-b1)"/>
<path d="M713.5 716 C720 720 724 730 721 737 C720 741 719 743 717 745 L713.5 745Z" fill="#1030e0" filter="url(#pa-b1)"/>
<rect x="690" y="473" width="46" height="16" fill="#40f020" filter="url(#pa-b2)"/>
<rect x="693" y="475" width="38" height="11" fill="#3cee10" filter="url(#pa-b1)"/>
<path d="M712 487 L731 487 L731 484" fill="none" stroke="#0c3a58" stroke-width="1.8" filter="url(#pa-b1)"/>
<path d="M713 488.5 L728 488.5 L722 492 L714 496Z" fill="#10d8f0" filter="url(#pa-b1)"/>
<path d="M730 478 L734 481 L736.5 485 L733 487.5 L729 487Z" fill="#1818e8" filter="url(#pa-b1)"/>
<ellipse cx="718" cy="469" rx="24" ry="5" fill="#ff8a00" filter="url(#pa-b3)"/>
<ellipse cx="721" cy="470.5" rx="17" ry="3" fill="#ff2a00" filter="url(#pa-b2)"/>
</g>
<g clip-path="url(#pb-clip)">
<rect x="286" y="769" width="1435" height="827" fill="#fe5604"/>
<path d="M600 800C602.6 804.8 607.6 821.7 615.7 829C623.8 836.3 637.8 837.8 648.8 844C659.8 850.2 671 858.6 682 866C693 873.4 705.1 880.6 715 888.4C724.9 896.2 734.1 904.9 741.4 912.6C748.7 920.3 754.6 927.4 759 934.7C763.4 942.1 766.2 950.1 768 956.7C769.8 963.3 770.4 968.5 770 974.4C769.6 980.3 767.5 985.7 765.7 992C763.9 998.3 760.5 1006.8 759 1012C757.5 1017.2 757 1019.7 757 1023C757 1026.3 756.8 1029.2 759 1031.7C761.2 1034.2 764.8 1035.8 770 1038C775.2 1040.2 786.7 1043.8 790 1045L1300 1045C1305 1043.1 1322.3 1036.8 1330.3 1033.5C1338.3 1030.2 1343.2 1028.2 1348 1025C1352.8 1021.8 1356.4 1018 1359 1014C1361.6 1010 1361.2 1006.4 1363.4 1000.9C1365.6 995.4 1368.5 988 1372.2 981C1375.9 974 1379.5 966.7 1385.4 959C1391.3 951.3 1400.2 942.1 1407.5 934.7C1414.8 927.3 1420.3 921.4 1429.5 914.8C1438.7 908.2 1449.7 902.4 1462.6 895C1475.5 887.6 1493.8 878.4 1506.7 870.7C1519.6 863 1529.9 855.6 1539.8 848.7C1549.7 841.8 1556.3 837.4 1566.3 829.3C1576.3 821.2 1594.4 804.9 1600 800Z" fill="#ff2a05" filter="url(#pb-b1)"/>
<path d="M1236.5 1000.9C1239.2 999.2 1246.6 993.4 1253 991C1259.4 988.6 1268.4 986.3 1275 986.5C1281.6 986.7 1287.8 989.2 1292.8 992C1297.8 994.8 1302.5 998.7 1305 1003C1307.5 1007.3 1307.1 1015.3 1307.5 1017.8L1307.5 1017.8C1304.6 1017.9 1295.4 1018.5 1290 1018.6C1284.6 1018.7 1280 1019.3 1275 1018.5C1270 1017.7 1266.1 1016.9 1259.7 1014C1253.3 1011.1 1240.4 1003.1 1236.5 1000.9Z" fill="#ff0c04" filter="url(#pb-b1)"/>
<path d="M300 997C307.7 995.8 328.3 992.8 346 989.8C363.7 986.8 385 982.1 406 978.8C427 975.5 449.9 972.2 472 970C494.1 967.8 520.1 966.3 538.5 965.6C556.9 964.9 567.9 964.5 582.6 965.6C597.3 966.7 613.8 969.1 626.7 972C639.6 974.9 650.2 978.9 659.8 983C669.3 987.1 677 991.6 684 996.4C691 1001.2 697.3 1007.2 701.7 1012C706.1 1016.8 708.3 1020.7 710.5 1025C712.7 1029.3 713.8 1034 715 1038C716.2 1042 717.5 1047.2 718 1049L722 1050C725 1048.3 730.2 1042.4 740 1040C749.8 1037.6 771 1036.4 781 1035.5C791 1034.6 787.7 1034.8 800 1034.4C812.3 1034 842.5 1035.1 855 1033C867.5 1030.9 850.8 1024.4 875 1022C899.2 1019.6 962.5 1019.1 1000 1018.4C1037.5 1017.6 1066.7 1017.7 1100 1017.5C1133.3 1017.3 1176.7 1016.6 1200 1017C1223.3 1017.4 1226.7 1018.3 1240 1020C1253.3 1021.7 1266.7 1024.8 1280 1027C1293.3 1029.2 1308 1031.3 1320 1033C1332 1034.7 1341.1 1037 1352 1037C1362.9 1037 1376.2 1035.9 1385.4 1032.8C1394.7 1029.7 1400.2 1023.1 1407.5 1018.5C1414.8 1013.9 1422.2 1008.8 1429.5 1005.3C1436.8 1001.8 1442.4 999.4 1451.6 997.5C1460.8 995.6 1473.7 994.4 1484.7 994.2C1495.7 994 1506.8 994.5 1517.8 996.4C1528.8 998.2 1541.6 1001.6 1550.8 1005.3C1560 1009 1566.4 1013.4 1573 1018.5C1579.6 1023.6 1585 1031.2 1590.5 1036C1596 1040.8 1599.8 1044.4 1606 1047C1612.2 1049.6 1619 1050.5 1628 1051.6C1637 1052.7 1644.7 1053.1 1660 1053.8C1675.3 1054.5 1710 1055.6 1720 1056L1721 1596L286 1596Z" fill="#ff8808" filter="url(#pb-b1)"/>
<path d="M300 1157C307.7 1154.6 332 1147.1 346 1142.7C360 1138.3 370.3 1135.5 384 1130.6C397.7 1125.6 413.3 1119.6 428 1113C442.7 1106.4 459.5 1096.8 472 1091C484.5 1085.2 491.9 1082.7 503 1078C514.1 1073.3 525.2 1068.1 538.5 1062.6C551.8 1057.1 567.9 1049.6 582.6 1045C597.3 1040.4 613.8 1037 626.7 1035C639.6 1033 650.6 1032.5 659.8 1032.8C669 1033.1 675 1034.6 682 1037C689 1039.4 695.9 1044.2 701.7 1047C707.5 1049.8 714.5 1052.8 717 1054L722 1052C725 1050.7 730.2 1046 740 1044C749.8 1042 771 1040.8 781 1040C791 1039.2 787.7 1039.8 800 1039.5C812.3 1039.2 842.5 1039.9 855 1038C867.5 1036.1 850.8 1030.3 875 1028C899.2 1025.7 962.5 1024.8 1000 1024C1037.5 1023.2 1066.7 1023.7 1100 1023.5C1133.3 1023.3 1176.7 1022.6 1200 1023C1223.3 1023.4 1226.7 1024.5 1240 1026C1253.3 1027.5 1266.7 1029.8 1280 1032C1293.3 1034.2 1306.7 1036.3 1320 1039C1333.3 1041.7 1345 1046.6 1360 1048C1375 1049.4 1393.3 1047.7 1410 1047.5C1426.7 1047.3 1445 1046 1460 1046.7C1475 1047.5 1486.7 1050.3 1500 1052C1513.3 1053.7 1521.7 1055.2 1540 1057C1558.3 1058.8 1590 1061.5 1610 1062.7C1630 1064 1641.7 1064 1660 1064.5C1678.3 1065 1710 1065.8 1720 1066L1721 1596L286 1596Z" fill="#ffb305" filter="url(#pb-b1)"/>
<path d="M300 1280C307.7 1277.7 332 1270.3 346 1266C360 1261.7 370.3 1259.7 384 1254C397.7 1248.3 413.3 1240.8 428 1232C442.7 1223.2 457.3 1212.8 472 1201C486.7 1189.2 501.6 1174.7 516.4 1161.5C531.2 1148.3 545.9 1133.9 560.6 1121.8C575.3 1109.7 593.7 1096 604.7 1088.7C615.7 1081.4 619.4 1081.6 626.7 1078C634.1 1074.4 641.4 1070.3 648.8 1067C656.1 1063.7 663.4 1060 670.8 1058C678.2 1056 685.5 1055.2 693 1055C700.5 1054.8 712.2 1056.2 716 1056.5L722 1054C725 1052.8 730.2 1048.6 740 1047C749.8 1045.4 771 1044.9 781 1044.5C791 1044.1 787.7 1044.9 800 1044.5C812.3 1044.1 842.5 1043.8 855 1042C867.5 1040.2 850.8 1036 875 1034C899.2 1032 962.5 1030.8 1000 1030C1037.5 1029.2 1066.7 1029.6 1100 1029.5C1133.3 1029.4 1176.7 1029.1 1200 1029.5C1223.3 1029.9 1226.7 1030.7 1240 1032C1253.3 1033.3 1266.7 1035.3 1280 1037.5C1293.3 1039.7 1306.7 1042.1 1320 1045C1333.3 1047.9 1345 1052.5 1360 1055C1375 1057.5 1393.3 1058.5 1410 1060C1426.7 1061.5 1438.3 1062.7 1460 1064C1481.7 1065.3 1515 1067 1540 1068C1565 1069 1590 1069.5 1610 1070C1630 1070.5 1641.7 1070.7 1660 1071C1678.3 1071.3 1710 1071.8 1720 1072L1721 1596L286 1596Z" fill="#ffdc00" filter="url(#pb-b1)"/>
<path d="M300 1370C307.7 1368.6 328.3 1365.4 346 1361.8C363.7 1358.2 388.7 1354 406 1348.5C423.3 1343 437.1 1335.3 450 1328.7C462.9 1322.1 474.4 1315.8 483.4 1308.8C492.4 1301.8 497.2 1295.4 504 1287C510.8 1278.6 516.8 1270.6 524 1258.5C531.2 1246.4 539.5 1228.4 547 1214.4C554.5 1200.4 561.8 1186.5 569 1174.7C576.2 1162.9 581.3 1154.5 590 1143.8C598.7 1133.1 611 1120.5 621 1110.7C631 1100.9 639.8 1092.3 650 1085C660.2 1077.7 673.7 1070.6 682 1066.6C690.3 1062.6 694.2 1062.3 700 1061C705.8 1059.7 714.2 1058.9 717 1058.5L722 1056C725 1055 730.2 1051.1 740 1050C749.8 1048.9 771 1049.6 781 1049.5C791 1049.4 787.7 1050.1 800 1049.5C812.3 1048.9 842.5 1047.8 855 1046C867.5 1044.2 850.8 1040.7 875 1039C899.2 1037.3 962.5 1036.2 1000 1035.6C1037.5 1035 1066.7 1035.4 1100 1035.3C1133.3 1035.2 1176.7 1034.7 1200 1035C1223.3 1035.3 1226.7 1035.9 1240 1037C1253.3 1038.1 1266.7 1039.6 1280 1041.8C1293.3 1044 1306.7 1047 1320 1050C1333.3 1053 1345 1057 1360 1060C1375 1063 1393.3 1065.7 1410 1068C1426.7 1070.3 1438.3 1072.5 1460 1073.7C1481.7 1075 1515 1075.1 1540 1075.5C1565 1075.9 1590 1075.9 1610 1076C1630 1076.1 1641.7 1076 1660 1076C1678.3 1076 1710 1076 1720 1076L1721 1596L286 1596Z" fill="#fcfb00" filter="url(#pb-b1)"/>
<path d="M1180 1528C1180.8 1526.5 1178.4 1524 1185 1519C1191.6 1514 1207.3 1502.8 1219.7 1498C1232.1 1493.2 1246.3 1490.5 1259.6 1490C1272.9 1489.5 1287.5 1492.3 1299.4 1495C1311.3 1497.7 1327.9 1502 1331 1506C1334.1 1510 1321.2 1515.3 1318 1519C1314.8 1522.7 1313 1526.5 1312 1528Z" fill="#ffdc00" filter="url(#pb-b1)"/>
<path d="M1225 1519C1226.5 1516.7 1226.5 1507.4 1234 1505C1241.5 1502.6 1266 1502.2 1270 1504.5C1274 1506.8 1260 1516.6 1258 1519Z" fill="#ffb305" filter="url(#pb-b1)"/>
<path d="M1490 1528C1490.5 1524.3 1484.9 1511.9 1493 1506C1501.1 1500.1 1522.1 1497 1538.5 1492.5C1554.9 1488 1571.3 1483.4 1591.6 1479C1611.8 1474.6 1638.6 1470 1660 1466C1681.4 1462 1710 1456.8 1720 1455L1720 1528Z" fill="#ffdc00" filter="url(#pb-b1)"/>
<path d="M1597 1506C1602.8 1503.3 1621 1494 1631.5 1490C1642 1486 1645.2 1485.3 1660 1482C1674.8 1478.7 1710 1472 1720 1470L1720 1521C1710 1521 1677 1521.3 1660 1521C1643 1520.7 1628.5 1521.5 1618 1519C1607.5 1516.5 1600.5 1508.2 1597 1506Z" fill="#ffb305" filter="url(#pb-b1)"/>
<path d="M300 1432C307.7 1431.7 324.7 1431 346 1430C367.3 1429 399.6 1427.9 428 1425.7C456.4 1423.5 494.3 1420.7 516.4 1417C538.5 1413.3 549.6 1409.2 560.6 1403.7C571.6 1398.2 576 1391.9 582.6 1383.8C589.2 1375.7 594.5 1365.3 600 1355C605.5 1344.7 611.2 1331.2 615.7 1322C620.2 1312.8 621.8 1312 626.7 1300C631.6 1288 638.6 1266.7 645 1250C651.4 1233.3 658.3 1216.7 665 1200C671.7 1183.3 678.7 1166.7 685 1150C691.3 1133.3 697.8 1114 703 1100C708.2 1086 713.8 1071.7 716 1066L719 1066C717.8 1070.8 715 1083.2 712 1095C709 1106.8 704.3 1122.7 701 1137C697.7 1151.3 694.2 1168.2 692 1181C689.8 1193.8 689.2 1202.2 688 1214C686.8 1225.8 683.3 1244 685 1252C686.7 1260 695.8 1260.3 698 1262L698 1600L286 1596Z" fill="#ebfd00" filter="url(#pb-b3)"/>
<path d="M300 1467C307.7 1466.7 324.7 1466.4 346 1465.4C367.3 1464.4 399.6 1462.8 428 1461C456.4 1459.2 490.6 1457 516.4 1454.4C542.2 1451.8 566 1449.3 582.6 1445.6C599.2 1441.9 607.6 1437.9 615.7 1432C623.8 1426.1 626.6 1419.2 631 1410C635.4 1400.8 638.3 1388 642 1377C645.7 1366 648.9 1355 653 1344C657.1 1333 663.4 1318.3 666.4 1311C669.4 1303.7 669 1309.8 670.8 1300C672.6 1290.2 675.1 1266.3 677 1252C678.9 1237.7 680.3 1225.8 682 1214C683.7 1202.2 684.7 1193.8 687 1181C689.3 1168.2 692.5 1151.3 696 1137C699.5 1122.7 704.5 1106.5 708 1095C711.5 1083.5 715.5 1072.5 717 1068L719 1066C717.8 1070.8 715 1083.2 712 1095C709 1106.8 704.3 1122.7 701 1137C697.7 1151.3 694.2 1168.2 692 1181C689.8 1193.8 689.2 1202.2 688 1214C686.8 1225.8 683.3 1244 685 1252C686.7 1260 695.8 1260.3 698 1262L698 1600L286 1596Z" fill="#d2ff00" filter="url(#pb-b3)"/>
<path d="M300 1491C307.7 1490.8 324.7 1490.3 346 1489.7C367.3 1489.1 399.6 1488.6 428 1487.5C456.4 1486.4 486.9 1484.8 516.4 1483C545.9 1481.2 582.6 1479 604.7 1476.4C626.8 1473.8 639.6 1473.1 648.8 1467.6C658 1462.1 658.3 1453 659.8 1443.4C661.3 1433.8 656.9 1421.1 657.6 1410C658.3 1398.9 661.3 1388 664.2 1377C667.1 1366 672.2 1353.2 675.2 1344C678.2 1334.8 680.2 1331 682 1322C683.8 1313 684.7 1300 686 1290C687.3 1280 689.3 1266.7 690 1262L698 1262L698 1600L286 1596Z" fill="#a4ff00" filter="url(#pb-b3)"/>
<path d="M300 1518C307.7 1517.7 317.3 1517 346 1516C374.7 1515 436.5 1513.2 472.3 1511.7C508.1 1510.2 534.9 1508.8 560.6 1507.3C586.3 1505.8 608.3 1505.5 626.7 1503C645.1 1500.5 662 1498.3 670.8 1492C679.6 1485.7 679.2 1475.4 679.6 1465.4C680 1455.4 673.7 1443.1 673 1432C672.3 1420.9 673.4 1410 675.2 1399C677 1388 681.2 1375.8 684 1366C686.8 1356.2 689.7 1346 692 1340C694.3 1334 697 1331.7 698 1330L698 1600L286 1596Z" fill="#74fd00" filter="url(#pb-b3)"/>
<path d="M698 1483C697.2 1483 695.3 1485.6 693 1483C690.7 1480.4 686.2 1476.1 684 1467.6C681.8 1459.1 679.6 1443.4 679.6 1432C679.6 1420.6 681.8 1408.2 684 1399C686.2 1389.8 690.7 1380.7 693 1377C695.3 1373.3 697.2 1377 698 1377Z" fill="#44f800" filter="url(#pb-b3)"/>
<path d="M300 1519.5C340 1519.5 486.7 1519.2 540 1519.5C593.3 1519.8 593.3 1520.8 620 1521.5C646.7 1522.2 686.7 1523.2 700 1523.5L700 1600L286 1596Z" fill="#44f800" filter="url(#pb-b1)"/>
<ellipse cx="688" cy="1468" rx="6.5" ry="8" fill="#fcfb00" filter="url(#pb-b3)"/>
<path d="M716 1064L718.4 1063.9L721.6 1063.7L725.4 1063.5L729.9 1063.3L734.7 1063.1L740 1063L746.1 1062.9L753.2 1062.9L760.8 1063L768.3 1063L775.2 1063L781 1063L785 1063L787.6 1063L789.6 1063.1L791.8 1063.1L795 1063L800 1062.7L807.5 1062.3L817 1061.8L827.4 1061.2L837.9 1060.5L847.4 1059.8L855 1059L859.1 1058.1L860.4 1057.1L860.6 1056L861.9 1054.9L866 1053.9L875 1053L890 1052.2L909.8 1051.4L932.5 1050.7L956.3 1050L979.4 1049.4L1000 1049L1018.1 1048.7L1035.2 1048.6L1051.6 1048.5L1067.6 1048.5L1083.6 1048.5L1100 1048.5L1117.4 1048.4L1135.6 1048.2L1153.8 1048L1171.1 1047.9L1186.8 1047.9L1200 1048L1210.1 1048.3L1217.8 1048.6L1223.8 1049L1228.9 1049.6L1234 1050.2L1240 1051L1246.7 1051.9L1253.3 1052.8L1260 1053.9L1266.7 1055.1L1273.3 1056.3L1280 1057.7L1286.7 1059.2L1293.3 1060.8L1300 1062.5L1306.7 1064.3L1313.3 1066.1L1320 1068L1326.6 1070L1333 1072.1L1339.4 1074.3L1345.9 1076.4L1352.8 1078.3L1360 1080L1367.8 1081.4L1375.9 1082.5L1384.4 1083.5L1393 1084.4L1401.6 1085.2L1410 1086L1418 1086.8L1425.6 1087.5L1433.1 1088.1L1441.1 1088.7L1449.9 1089.2L1460 1089.7L1471.7 1090.1L1484.8 1090.4L1498.8 1090.6L1513 1090.8L1526.9 1090.9L1540 1091L1552.5 1091.1L1564.8 1091.1L1576.9 1091.1L1588.5 1091.1L1599.6 1091.1L1610 1091L1619.4 1090.9L1627.8 1090.7L1635.6 1090.5L1643.3 1090.3L1651.3 1090.1L1660 1090L1670.1 1089.9L1681.5 1089.9L1693.1 1089.9L1704.1 1090L1713.4 1090L1720 1090L1720 1440L1713.4 1441.1L1704.1 1442.6L1693.1 1444.4L1681.5 1446.4L1670.1 1448.3L1660 1450L1651 1451.6L1642.4 1453.1L1634.1 1454.7L1625.9 1456.2L1617.9 1457.6L1610 1459L1602.9 1460.3L1596.9 1461.5L1591 1462.6L1584.3 1463.7L1576 1464.9L1565 1466L1550.3 1467.2L1532.4 1468.6L1512.9 1469.9L1493.1 1471.1L1474.7 1472.2L1459 1473L1446.6 1473.5L1436.4 1473.9L1427.5 1474.1L1419 1474.1L1410.2 1474.1L1400 1474L1388.6 1473.8L1376.7 1473.3L1364.3 1472.8L1351.7 1472.3L1338.9 1472L1326 1472L1312.7 1472.3L1298.8 1472.7L1284.7 1473.3L1270.9 1474.1L1257.8 1475L1246 1476L1235.6 1477.2L1226.3 1478.6L1217.8 1480.1L1209.7 1481.7L1201.5 1483.4L1193 1485L1184 1486.7L1174.9 1488.6L1165.7 1490.4L1156.7 1492.2L1148.1 1493.8L1140 1495L1132.5 1495.9L1125.3 1496.4L1118.6 1496.8L1112.1 1497L1105.9 1497L1100 1497L1094.8 1496.9L1090.4 1496.6L1086.3 1496.2L1081.9 1495.7L1076.7 1495L1070 1494L1061.9 1492.8L1052.9 1491.3L1043 1489.6L1032.4 1487.7L1020.9 1485.9L1008.8 1484L995.7 1482L981.4 1479.8L966.4 1477.6L951 1475.4L935.6 1473.5L920.6 1472L905.2 1471L889 1470.3L872.8 1469.8L857.4 1469.5L843.5 1469.3L832 1469L823.5 1468.7L817.4 1468.6L813 1468.5L809.2 1468.4L805.1 1468.3L800 1468L793.8 1467.6L787.4 1467.2L780.8 1466.8L773.9 1466.2L767 1465.6L760 1465L752.4 1464.2L744 1463.3L735.5 1462.3L727.6 1461.4L720.8 1460.6L716 1460Z" fill="#d2ff00" filter="url(#pb-b2)"/>
<path d="M716 1070L718.4 1069.9L721.6 1069.8L725.4 1069.6L729.9 1069.5L734.7 1069.3L740 1069.2L746.1 1069.2L753.2 1069.3L760.8 1069.3L768.3 1069.4L775.2 1069.5L781 1069.5L785 1069.5L787.6 1069.6L789.6 1069.6L791.8 1069.6L795 1069.5L800 1069.3L807.5 1069L817 1068.6L827.4 1068.1L837.9 1067.5L847.4 1066.9L855 1066.2L859.1 1065.5L860.4 1064.6L860.6 1063.6L861.9 1062.6L866 1061.6L875 1060.8L890 1059.9L909.8 1059.1L932.5 1058.3L956.3 1057.6L979.4 1056.9L1000 1056.4L1018.1 1056L1035.2 1055.7L1051.6 1055.4L1067.6 1055.2L1083.6 1055.1L1100 1054.9L1117.4 1054.6L1135.6 1054.3L1153.8 1054L1171.1 1053.8L1186.8 1053.7L1200 1053.8L1210.1 1054L1217.8 1054.3L1223.8 1054.8L1228.9 1055.3L1234 1056L1240 1056.8L1246.7 1057.6L1253.3 1058.5L1260 1059.6L1266.7 1060.7L1273.3 1061.9L1280 1063.3L1286.7 1064.7L1293.3 1066.4L1300 1068.1L1306.7 1069.8L1313.3 1071.7L1320 1073.5L1326.6 1075.4L1333 1077.5L1339.4 1079.6L1345.9 1081.6L1352.8 1083.5L1360 1085.2L1367.8 1086.5L1375.9 1087.7L1384.4 1088.7L1393 1089.6L1401.6 1090.4L1410 1091.2L1418 1092L1425.6 1092.8L1433.1 1093.4L1441.1 1094L1449.9 1094.5L1460 1094.9L1471.7 1095.2L1484.8 1095.5L1498.8 1095.6L1513 1095.7L1526.9 1095.7L1540 1095.8L1552.5 1095.7L1564.8 1095.7L1576.9 1095.6L1588.5 1095.5L1599.6 1095.4L1610 1095.2L1619.4 1095.1L1627.8 1095L1635.6 1094.8L1643.3 1094.7L1651.3 1094.6L1660 1094.5L1670.1 1094.5L1681.5 1094.4L1693.1 1094.5L1704.1 1094.5L1713.4 1094.5L1720 1094.5L1720 1433L1713.4 1434.1L1704.1 1435.6L1693.1 1437.3L1681.5 1439.2L1670.1 1441.1L1660 1442.8L1651 1444.3L1642.4 1445.9L1634.1 1447.4L1625.9 1448.9L1617.9 1450.4L1610 1451.8L1602.9 1453.1L1596.9 1454.3L1591 1455.5L1584.3 1456.7L1576 1457.8L1565 1459L1550.3 1460.2L1532.4 1461.5L1512.9 1462.8L1493.1 1464L1474.7 1465L1459 1465.8L1446.6 1466.3L1436.4 1466.6L1427.5 1466.7L1419 1466.8L1410.2 1466.7L1400 1466.7L1388.6 1466.5L1376.7 1466.1L1364.3 1465.6L1351.7 1465.2L1338.9 1465L1326 1465L1312.7 1465.3L1298.8 1465.9L1284.7 1466.6L1270.9 1467.4L1257.8 1468.4L1246 1469.5L1235.6 1470.7L1226.3 1472.1L1217.8 1473.7L1209.7 1475.3L1201.5 1476.9L1193 1478.5L1184 1480.2L1174.9 1482L1165.7 1483.8L1156.7 1485.5L1148.1 1487.1L1140 1488.2L1132.5 1489.1L1125.3 1489.7L1118.6 1490.2L1112.1 1490.4L1105.9 1490.5L1100 1490.5L1094.8 1490.4L1090.4 1490.2L1086.3 1489.8L1081.9 1489.3L1076.7 1488.6L1070 1487.8L1061.9 1486.6L1052.9 1485.2L1043 1483.7L1032.4 1482L1020.9 1480.2L1008.8 1478.5L995.7 1476.6L981.4 1474.5L966.4 1472.4L951 1470.3L935.6 1468.5L920.6 1467L905.2 1466L889 1465.3L872.8 1464.8L857.4 1464.5L843.5 1464.3L832 1464L823.5 1463.7L817.4 1463.6L813 1463.5L809.2 1463.4L805.1 1463.2L800 1463L793.8 1462.7L787.4 1462.3L780.8 1461.8L773.9 1461.3L767 1460.8L760 1460.2L752.4 1459.6L744 1458.8L735.5 1458L727.6 1457.2L720.8 1456.5L716 1456Z" fill="#a4ff00" filter="url(#pb-b3)"/>
<path d="M716 1076L718.4 1075.9L721.6 1075.8L725.4 1075.7L729.9 1075.6L734.7 1075.5L740 1075.5L746.1 1075.5L753.2 1075.6L760.8 1075.7L768.3 1075.8L775.2 1075.9L781 1076L785 1076L787.6 1076.1L789.6 1076.1L791.8 1076.1L795 1076L800 1075.8L807.5 1075.6L817 1075.3L827.4 1075L837.9 1074.6L847.4 1074.1L855 1073.5L859.1 1072.8L860.4 1072L860.6 1071.1L861.9 1070.2L866 1069.3L875 1068.5L890 1067.7L909.8 1066.8L932.5 1066L956.3 1065.2L979.4 1064.5L1000 1063.8L1018.1 1063.2L1035.2 1062.8L1051.6 1062.3L1067.6 1062L1083.6 1061.6L1100 1061.2L1117.4 1060.9L1135.6 1060.4L1153.8 1060L1171.1 1059.7L1186.8 1059.5L1200 1059.5L1210.1 1059.7L1217.8 1060L1223.8 1060.5L1228.9 1061.1L1234 1061.8L1240 1062.5L1246.7 1063.3L1253.3 1064.2L1260 1065.2L1266.7 1066.3L1273.3 1067.5L1280 1068.8L1286.7 1070.3L1293.3 1071.9L1300 1073.6L1306.7 1075.4L1313.3 1077.2L1320 1079L1326.6 1080.9L1333 1082.9L1339.4 1084.9L1345.9 1086.9L1352.8 1088.7L1360 1090.3L1367.8 1091.7L1375.9 1092.9L1384.4 1093.9L1393 1094.8L1401.6 1095.7L1410 1096.5L1418 1097.3L1425.6 1098L1433.1 1098.7L1441.1 1099.3L1449.9 1099.8L1460 1100.2L1471.7 1100.4L1484.8 1100.6L1498.8 1100.6L1513 1100.6L1526.9 1100.6L1540 1100.5L1552.5 1100.4L1564.8 1100.2L1576.9 1100.1L1588.5 1099.8L1599.6 1099.7L1610 1099.5L1619.4 1099.4L1627.8 1099.3L1635.6 1099.2L1643.3 1099.1L1651.3 1099L1660 1099L1670.1 1099L1681.5 1099L1693.1 1099L1704.1 1099L1713.4 1099L1720 1099L1720 1426L1713.4 1427L1704.1 1428.5L1693.1 1430.2L1681.5 1432L1670.1 1433.8L1660 1435.5L1651 1437L1642.4 1438.6L1634.1 1440.1L1625.9 1441.6L1617.9 1443.1L1610 1444.5L1602.9 1445.8L1596.9 1447.1L1591 1448.4L1584.3 1449.6L1576 1450.8L1565 1452L1550.3 1453.2L1532.4 1454.4L1512.9 1455.7L1493.1 1456.8L1474.7 1457.8L1459 1458.5L1446.6 1459L1436.4 1459.3L1427.5 1459.4L1419 1459.4L1410.2 1459.4L1400 1459.3L1388.6 1459.2L1376.7 1458.8L1364.3 1458.4L1351.7 1458.1L1338.9 1457.9L1326 1458L1312.7 1458.4L1298.8 1459L1284.7 1459.9L1270.9 1460.8L1257.8 1461.9L1246 1463L1235.6 1464.3L1226.3 1465.7L1217.8 1467.2L1209.7 1468.8L1201.5 1470.4L1193 1472L1184 1473.6L1174.9 1475.4L1165.7 1477.2L1156.7 1478.8L1148.1 1480.3L1140 1481.5L1132.5 1482.4L1125.3 1483L1118.6 1483.5L1112.1 1483.8L1105.9 1484L1100 1484L1094.8 1483.9L1090.4 1483.8L1086.3 1483.4L1081.9 1483L1076.7 1482.3L1070 1481.5L1061.9 1480.5L1052.9 1479.2L1043 1477.8L1032.4 1476.2L1020.9 1474.6L1008.8 1473L995.7 1471.2L981.4 1469.2L966.4 1467.2L951 1465.2L935.6 1463.4L920.6 1462L905.2 1461L889 1460.3L872.8 1459.9L857.4 1459.6L843.5 1459.3L832 1459L823.5 1458.7L817.4 1458.6L813 1458.5L809.2 1458.4L805.1 1458.2L800 1458L793.8 1457.7L787.4 1457.3L780.8 1456.9L773.9 1456.5L767 1456L760 1455.5L752.4 1454.9L744 1454.3L735.5 1453.6L727.6 1452.9L720.8 1452.4L716 1452Z" fill="#74fd00" filter="url(#pb-b3)"/>
<path d="M716 1082L718.4 1082L721.6 1081.9L725.4 1081.8L729.9 1081.8L734.7 1081.7L740 1081.8L746.1 1081.8L753.2 1082L760.8 1082.1L768.3 1082.3L775.2 1082.4L781 1082.5L785 1082.6L787.6 1082.6L789.6 1082.6L791.8 1082.6L795 1082.5L800 1082.4L807.5 1082.3L817 1082.1L827.4 1081.9L837.9 1081.6L847.4 1081.2L855 1080.8L859.1 1080.2L860.4 1079.5L860.6 1078.7L861.9 1077.9L866 1077.1L875 1076.2L890 1075.4L909.8 1074.6L932.5 1073.7L956.3 1072.8L979.4 1072L1000 1071.2L1018.1 1070.5L1035.2 1069.9L1051.6 1069.2L1067.6 1068.7L1083.6 1068.1L1100 1067.6L1117.4 1067.1L1135.6 1066.5L1153.8 1066L1171.1 1065.6L1186.8 1065.3L1200 1065.2L1210.1 1065.4L1217.8 1065.7L1223.8 1066.2L1228.9 1066.8L1234 1067.5L1240 1068.2L1246.7 1069.1L1253.3 1069.9L1260 1070.9L1266.7 1072L1273.3 1073.1L1280 1074.4L1286.7 1075.9L1293.3 1077.5L1300 1079.2L1306.7 1080.9L1313.3 1082.7L1320 1084.5L1326.6 1086.3L1333 1088.3L1339.4 1090.3L1345.9 1092.2L1352.8 1094L1360 1095.5L1367.8 1096.9L1375.9 1098.1L1384.4 1099.1L1393 1100L1401.6 1100.9L1410 1101.8L1418 1102.5L1425.6 1103.3L1433.1 1104L1441.1 1104.5L1449.9 1105L1460 1105.4L1471.7 1105.6L1484.8 1105.7L1498.8 1105.6L1513 1105.5L1526.9 1105.4L1540 1105.2L1552.5 1105.1L1564.8 1104.8L1576.9 1104.5L1588.5 1104.2L1599.6 1103.9L1610 1103.8L1619.4 1103.6L1627.8 1103.6L1635.6 1103.5L1643.3 1103.5L1651.3 1103.5L1660 1103.5L1670.1 1103.5L1681.5 1103.5L1693.1 1103.5L1704.1 1103.5L1713.4 1103.5L1720 1103.5L1720 1419L1713.4 1420L1704.1 1421.4L1693.1 1423.1L1681.5 1424.8L1670.1 1426.6L1660 1428.2L1651 1429.8L1642.4 1431.3L1634.1 1432.8L1625.9 1434.4L1617.9 1435.8L1610 1437.2L1602.9 1438.6L1596.9 1440L1591 1441.3L1584.3 1442.6L1576 1443.8L1565 1445L1550.3 1446.2L1532.4 1447.4L1512.9 1448.6L1493.1 1449.6L1474.7 1450.5L1459 1451.2L1446.6 1451.7L1436.4 1452L1427.5 1452.1L1419 1452.1L1410.2 1452.1L1400 1452L1388.6 1451.9L1376.7 1451.6L1364.3 1451.2L1351.7 1450.9L1338.9 1450.8L1326 1451L1312.7 1451.5L1298.8 1452.2L1284.7 1453.1L1270.9 1454.2L1257.8 1455.3L1246 1456.5L1235.6 1457.8L1226.3 1459.2L1217.8 1460.8L1209.7 1462.4L1201.5 1463.9L1193 1465.5L1184 1467.1L1174.9 1468.8L1165.7 1470.5L1156.7 1472.1L1148.1 1473.6L1140 1474.8L1132.5 1475.6L1125.3 1476.3L1118.6 1476.8L1112.1 1477.2L1105.9 1477.4L1100 1477.5L1094.8 1477.5L1090.4 1477.3L1086.3 1477L1081.9 1476.6L1076.7 1476L1070 1475.2L1061.9 1474.3L1052.9 1473.2L1043 1471.9L1032.4 1470.5L1020.9 1469L1008.8 1467.5L995.7 1465.8L981.4 1463.9L966.4 1462L951 1460L935.6 1458.3L920.6 1457L905.2 1456L889 1455.4L872.8 1454.9L857.4 1454.6L843.5 1454.3L832 1454L823.5 1453.7L817.4 1453.6L813 1453.5L809.2 1453.4L805.1 1453.2L800 1453L793.8 1452.7L787.4 1452.4L780.8 1452L773.9 1451.6L767 1451.2L760 1450.8L752.4 1450.3L744 1449.8L735.5 1449.2L727.6 1448.7L720.8 1448.3L716 1448Z" fill="#44f800" filter="url(#pb-b3)"/>
<path d="M716 1088L718.4 1088L721.6 1088L725.4 1087.9L729.9 1087.9L734.7 1087.9L740 1088L746.1 1088.1L753.2 1088.3L760.8 1088.5L768.3 1088.7L775.2 1088.9L781 1089L785 1089.1L787.6 1089.1L789.6 1089.1L791.8 1089.1L795 1089.1L800 1089L807.5 1088.9L817 1088.9L827.4 1088.8L837.9 1088.6L847.4 1088.4L855 1088L859.1 1087.5L860.4 1086.9L860.6 1086.3L861.9 1085.5L866 1084.8L875 1084L890 1083.2L909.8 1082.3L932.5 1081.3L956.3 1080.4L979.4 1079.5L1000 1078.6L1018.1 1077.8L1035.2 1076.9L1051.6 1076.1L1067.6 1075.4L1083.6 1074.7L1100 1074L1117.4 1073.3L1135.6 1072.7L1153.8 1072L1171.1 1071.5L1186.8 1071.1L1200 1071L1210.1 1071.1L1217.8 1071.4L1223.8 1071.9L1228.9 1072.6L1234 1073.3L1240 1074L1246.7 1074.8L1253.3 1075.6L1260 1076.6L1266.7 1077.6L1273.3 1078.7L1280 1080L1286.7 1081.4L1293.3 1083L1300 1084.7L1306.7 1086.5L1313.3 1088.2L1320 1090L1326.6 1091.8L1333 1093.7L1339.4 1095.6L1345.9 1097.4L1352.8 1099.2L1360 1100.7L1367.8 1102L1375.9 1103.2L1384.4 1104.3L1393 1105.3L1401.6 1106.2L1410 1107L1418 1107.8L1425.6 1108.6L1433.1 1109.2L1441.1 1109.8L1449.9 1110.3L1460 1110.6L1471.7 1110.8L1484.8 1110.8L1498.8 1110.6L1513 1110.5L1526.9 1110.2L1540 1110L1552.5 1109.7L1564.8 1109.4L1576.9 1109L1588.5 1108.6L1599.6 1108.2L1610 1108L1619.4 1107.9L1627.8 1107.9L1635.6 1107.9L1643.3 1107.9L1651.3 1108L1660 1108L1670.1 1108L1681.5 1108L1693.1 1108L1704.1 1108L1713.4 1108L1720 1108L1720 1412L1713.4 1413L1704.1 1414.3L1693.1 1415.9L1681.5 1417.7L1670.1 1419.4L1660 1421L1651 1422.5L1642.4 1424L1634.1 1425.6L1625.9 1427.1L1617.9 1428.6L1610 1430L1602.9 1431.4L1596.9 1432.8L1591 1434.2L1584.3 1435.5L1576 1436.8L1565 1438L1550.3 1439.2L1532.4 1440.3L1512.9 1441.5L1493.1 1442.5L1474.7 1443.3L1459 1444L1446.6 1444.4L1436.4 1444.7L1427.5 1444.8L1419 1444.8L1410.2 1444.7L1400 1444.7L1388.6 1444.6L1376.7 1444.3L1364.3 1444L1351.7 1443.8L1338.9 1443.7L1326 1444L1312.7 1444.6L1298.8 1445.4L1284.7 1446.4L1270.9 1447.5L1257.8 1448.7L1246 1450L1235.6 1451.3L1226.3 1452.8L1217.8 1454.3L1209.7 1455.9L1201.5 1457.5L1193 1459L1184 1460.6L1174.9 1462.2L1165.7 1463.9L1156.7 1465.4L1148.1 1466.8L1140 1468L1132.5 1468.9L1125.3 1469.6L1118.6 1470.2L1112.1 1470.6L1105.9 1470.9L1100 1471L1094.8 1471L1090.4 1470.9L1086.3 1470.6L1081.9 1470.2L1076.7 1469.7L1070 1469L1061.9 1468.2L1052.9 1467.1L1043 1466L1032.4 1464.7L1020.9 1463.4L1008.8 1462L995.7 1460.4L981.4 1458.6L966.4 1456.8L951 1454.9L935.6 1453.3L920.6 1452L905.2 1451.1L889 1450.4L872.8 1449.9L857.4 1449.6L843.5 1449.3L832 1449L823.5 1448.7L817.4 1448.6L813 1448.4L809.2 1448.3L805.1 1448.2L800 1448L793.8 1447.7L787.4 1447.4L780.8 1447.1L773.9 1446.7L767 1446.3L760 1446L752.4 1445.6L744 1445.3L735.5 1444.9L727.6 1444.5L720.8 1444.2L716 1444Z" fill="#0af200" filter="url(#pb-b3)"/>
<path d="M716 1084C723.3 1085 746 1088.3 760 1090C774 1091.7 781.3 1093.2 800 1094C818.7 1094.8 855.6 1093.3 872 1095C888.4 1096.7 883 1100.3 898.5 1104C914 1107.7 939 1112.2 964.7 1117C990.5 1121.8 1023.8 1127.8 1053 1132.6C1082.2 1137.4 1119.3 1139.3 1140 1146C1160.7 1152.7 1169.9 1163.2 1177 1173C1184.1 1182.8 1173.2 1196.2 1182.5 1205C1191.8 1213.8 1209.1 1221.7 1233 1226C1256.9 1230.3 1294.8 1230.5 1326 1231C1357.2 1231.5 1394.8 1229.6 1420 1229C1445.2 1228.4 1468 1223.6 1477 1227.5C1486 1231.4 1475.5 1243.8 1474 1252.5C1472.5 1261.2 1472.8 1270.6 1468 1280C1463.2 1289.4 1469.2 1303.2 1445.5 1309C1421.8 1314.8 1359.2 1310.5 1326 1314.5C1292.8 1318.5 1277 1327.6 1246 1333C1215 1338.4 1179.5 1345.5 1140 1347C1100.5 1348.5 1045.4 1343.2 1008.8 1341.8C972.2 1340.4 950.1 1338.4 920.6 1338.4C891.1 1338.4 863.3 1339.4 832 1341.8C800.7 1344.2 753 1350.4 733 1352.8C713 1355.2 715.5 1355.5 712 1356Z" fill="#44f800" filter="url(#pb-b3)"/>
<path d="M716 1080C723.3 1081.3 748.3 1084.8 760 1088C771.7 1091.2 779.5 1095.4 786 1099.5C792.5 1103.6 787.6 1107.3 799 1112.8C810.4 1118.3 834.1 1127.4 854.4 1132.6C874.7 1137.8 898.5 1139.3 920.6 1143.7C942.7 1148.1 968.3 1153.5 986.7 1159C1005.1 1164.5 1019.8 1169 1030.8 1176.7C1041.8 1184.4 1045.6 1196.9 1053 1205.4C1060.4 1213.9 1060.5 1222.3 1075 1227.5C1089.5 1232.7 1114.2 1233 1140 1236.3C1165.8 1239.5 1199 1244.7 1230 1247C1261 1249.3 1299.3 1248.2 1326 1250C1352.7 1251.8 1374.5 1255.3 1390 1258C1405.5 1260.7 1416.4 1262.5 1419 1266C1421.6 1269.5 1421.2 1273.3 1405.7 1279C1390.2 1284.7 1357 1293.2 1326 1300C1295 1306.8 1250.7 1315.8 1219.7 1320C1188.7 1324.2 1175.2 1326.7 1140 1325C1104.8 1323.3 1045.4 1312.7 1008.8 1310C972.2 1307.3 950.1 1309 920.6 1308.7C891.1 1308.4 862.1 1308.6 832 1308C801.9 1307.4 760 1305.5 740 1305C720 1304.5 716.7 1305 712 1305Z" fill="#74fd00" filter="url(#pb-b3)"/>
<path d="M716 1076C721 1081 739.8 1097.3 746.3 1106C752.8 1114.7 748 1121.7 755 1128C762 1134.3 776.6 1138.9 788 1143.7C799.4 1148.5 814.3 1150.8 823.5 1157C832.7 1163.2 830.9 1174.8 843.4 1181C855.9 1187.2 878.3 1190 898.5 1194.4C918.7 1198.8 942.7 1202.1 964.7 1207.6C986.8 1213.1 1001.6 1219.9 1030.8 1227.5C1060 1235.1 1099.6 1248.8 1140 1253C1180.4 1257.2 1242 1249.9 1273 1252.5C1304 1255.1 1326 1263.2 1326 1268.5C1326 1273.8 1290.7 1279.3 1273 1284.4C1255.3 1289.5 1242.2 1295.3 1220 1299C1197.8 1302.7 1171.7 1307.1 1140 1306.6C1108.3 1306.1 1066.6 1298.6 1030 1296C993.4 1293.4 953.6 1291.5 920.6 1291C887.6 1290.5 861.4 1292 832 1293C802.6 1294 764 1296.3 744 1297C724 1297.7 717.3 1297 712 1297Z" fill="#a4ff00" filter="url(#pb-b3)"/>
<path d="M716 1072C718.5 1081.3 724.5 1115 731 1128C737.5 1141 748 1142.7 755 1150C762 1157.3 767.3 1164.6 772.8 1172C778.3 1179.4 774.4 1187.7 788 1194.4C801.6 1201.1 832.3 1207.2 854.4 1212C876.5 1216.8 898.5 1218.6 920.6 1223C942.7 1227.4 964.6 1233 986.7 1238.5C1008.8 1244 1027.5 1251.1 1053 1256C1078.5 1260.9 1116.7 1265.9 1140 1268C1163.3 1270.1 1181.5 1266.2 1193 1268.5C1204.5 1270.8 1209 1277.4 1209 1281.8C1209 1286.2 1204.5 1292.3 1193 1295C1181.5 1297.7 1167.2 1298.5 1140 1297.7C1112.8 1296.9 1066.6 1292.2 1030 1290C993.4 1287.8 953.6 1285.1 920.6 1284.4C887.6 1283.7 861.4 1285.2 832 1286C802.6 1286.8 764 1288.5 744 1289C724 1289.5 717.3 1289 712 1289Z" fill="#d2ff00" filter="url(#pb-b3)"/>
<path d="M726 1232C739 1226.2 774.3 1225.3 800 1225C825.7 1224.7 853.3 1227 880 1230C906.7 1233 933.3 1238.3 960 1243C986.7 1247.7 1018.3 1253.5 1040 1258C1061.7 1262.5 1090 1266.8 1090 1270C1090 1273.2 1061.7 1275.2 1040 1277C1018.3 1278.8 986.7 1279.8 960 1281C933.3 1282.2 906.7 1283.2 880 1284C853.3 1284.8 825 1286 800 1286C775 1286 743 1288.3 730 1284C717 1279.7 722.7 1268.7 722 1260C721.3 1251.3 713 1237.8 726 1232Z" fill="#ebfd00" filter="url(#pb-b3)"/>
<path d="M730 1236C732.7 1229.7 730.7 1233 744 1232C757.3 1231 787.9 1229 810 1229.7C832.1 1230.4 854.3 1233.8 876.4 1236.3C898.5 1238.8 922 1240.4 942.6 1245C963.2 1249.6 1003.7 1258.8 1000 1264C996.3 1269.2 948.6 1273.2 920.6 1276C892.6 1278.8 861.4 1280.3 832 1281C802.6 1281.7 761.3 1282.2 744 1280.4C726.7 1278.6 730.3 1277.4 728 1270C725.7 1262.6 727.3 1242.3 730 1236Z" fill="#fcfb00" filter="url(#pb-b3)"/>
<path d="M706 1136C709 1130.3 717.8 1137.3 722 1146C726.2 1154.7 730 1174.3 731 1188C732 1201.7 731.2 1222 728 1228C724.8 1234 716 1232 712 1224C708 1216 705 1194.7 704 1180C703 1165.3 703 1141.7 706 1136Z" fill="#ebfd00" filter="url(#pb-b3)"/>
<path d="M750 1244C750.8 1242 762.5 1239.8 770 1239.5C777.5 1239.2 788.7 1240.8 795 1242C801.3 1243.2 808.8 1245.5 808 1247C807.2 1248.5 797.2 1250.2 790 1251C782.8 1251.8 771.7 1252.7 765 1251.5C758.3 1250.3 749.2 1246 750 1244Z" fill="#ffdc00" filter="url(#pb-b3)"/>
<path d="M1520 1352C1522.5 1345.2 1545 1344.3 1560 1344C1575 1343.7 1593.3 1344.8 1610 1350C1626.7 1355.2 1641.7 1368.3 1660 1375C1678.3 1381.7 1710 1382.5 1720 1390C1730 1397.5 1730 1416.7 1720 1420C1710 1423.3 1678.3 1409.2 1660 1410C1641.7 1410.8 1625 1424.2 1610 1425C1595 1425.8 1580.8 1421.7 1570 1415C1559.2 1408.3 1553.3 1395.5 1545 1385C1536.7 1374.5 1517.5 1358.8 1520 1352Z" fill="#44f800" filter="url(#pb-b5)"/>
<path d="M1580 1130C1587 1124 1606.7 1115.7 1620 1114C1633.3 1112.3 1643.3 1116.5 1660 1120C1676.7 1123.5 1710 1128.3 1720 1135C1730 1141.7 1730 1156.3 1720 1160C1710 1163.7 1680 1157.2 1660 1157C1640 1156.8 1613.7 1160.2 1600 1159C1586.3 1157.8 1581.3 1154.8 1578 1150C1574.7 1145.2 1573 1136 1580 1130Z" fill="#44f800" filter="url(#pb-b5)"/>
<ellipse cx="1326" cy="1128" rx="36" ry="28" fill="#00f858" filter="url(#pb-b14)"/>
<ellipse cx="1655" cy="1250" rx="60" ry="56" fill="#00fa78" filter="url(#pb-b22)"/>
<ellipse cx="1655" cy="1250" rx="20" ry="18" fill="#00ffa0" filter="url(#pb-b14)"/>
<ellipse cx="945" cy="1419" rx="95" ry="20" fill="#00f858" filter="url(#pb-b14)"/>
<rect x="286" y="1522" width="1435" height="14.5" fill="url(#pb-ground)"/>
<path d="M721 1060 C718.5 1075 716.5 1086 715 1093 C711 1110 707 1124 704 1137 C700.5 1152 697.5 1167 695 1181 C693 1193 691.5 1204 690.7 1214 C689.5 1227 688 1240 687.4 1252" fill="none" stroke="#30ec30" stroke-width="9" filter="url(#pb-b2)" transform="translate(1.5 0)"/>
<path d="M721 1060 C718.5 1075 716.5 1086 715 1093 C711 1110 707 1124 704 1137 C700.5 1152 697.5 1167 695 1181 C693 1193 691.5 1204 690.7 1214 C689.5 1227 688 1240 687.4 1252" fill="none" stroke="#1028a8" stroke-width="2.6" filter="url(#pb-b1)"/>
<path d="M687.4 1258 C684 1275 682.5 1286 683 1292 C683.5 1302 685.5 1320 688.5 1334 C690 1342 692 1350 694 1356" fill="none" stroke="#14340c" stroke-width="3.6" filter="url(#pb-b1)"/>
<circle cx="721" cy="1054" r="5" fill="#ff1400" filter="url(#pb-b2)"/>
<rect x="712.5" y="1262" width="4" height="290" fill="#20f0e0" filter="url(#pb-b1)"/>
<rect x="692" y="1262" width="4" height="290" fill="#20f090" filter="url(#pb-b1)"/>
<rect x="696" y="1260" width="17" height="290" fill="#36e414" filter="url(#pb-b1)"/>
<rect x="695.4" y="1262" width="2.2" height="290" fill="#0c4030" filter="url(#pb-b1)"/>
<rect x="711.6" y="1262" width="2.2" height="290" fill="#0c3a58" filter="url(#pb-b1)"/>
<path d="M714.5 1488 C720 1494 721.5 1508 718 1521 L714.5 1521Z" fill="#1030e0" filter="url(#pb-b1)"/>
<rect x="690" y="1246" width="47" height="17" fill="#40f020" filter="url(#pb-b2)"/>
<rect x="693" y="1248" width="40" height="12.5" fill="#3cee10" filter="url(#pb-b1)"/>
<path d="M713 1262 L728 1262 L722 1265.5 L714 1269Z" fill="#10d8f0" filter="url(#pb-b1)"/>
<path d="M733.5 1250 L737 1260.5 L730.5 1260.5Z" fill="#1818e8" filter="url(#pb-b1)"/>
<ellipse cx="719" cy="1242" rx="25" ry="5" fill="#ff8a00" filter="url(#pb-b3)"/>
<ellipse cx="721" cy="1243.5" rx="18" ry="3" fill="#ff2a00" filter="url(#pb-b2)"/>
</g>
<text x="272.7" y="158" class="tick" text-anchor="middle">14</text>
<text x="273.1" y="451" class="tick" text-anchor="middle">11</text>
<text x="275.5" y="721.5" class="tick" text-anchor="middle">8</text>
<text x="275.5" y="980.5" class="tick" text-anchor="middle">5</text>
<text x="276" y="1246" class="tick" text-anchor="middle">2</text>
<text x="272.6" y="1519" class="tick" text-anchor="middle">&#8211;1</text>
<text x="1926" y="161.5" class="tick" text-anchor="middle">2</text>
<text x="1927" y="453.5" class="tick" text-anchor="middle">1</text>
<text x="1928.1" y="723.5" class="tick" text-anchor="middle">0</text>
<text x="1926" y="982.5" class="tick" text-anchor="middle">&#8211;1</text>
<text x="1931" y="1248.7" class="tick" text-anchor="middle">&#8211;2</text>
<text x="1929.6" y="1522.5" class="tick" text-anchor="middle">&#8211;3</text>
<text x="1003.5" y="813.6" class="cap" text-anchor="middle">(a)</text>
<text x="997.5" y="1603.9" class="cap" text-anchor="middle">(b)</text>
<text class="axis" text-anchor="middle" transform="translate(85.9 810) rotate(-90)">Wind Speed (m/s)</text>
<text class="axis" text-anchor="middle" transform="translate(1756.5 800.5) rotate(-90)">Pressure (kPa)</text>
</svg>
</body></html>
